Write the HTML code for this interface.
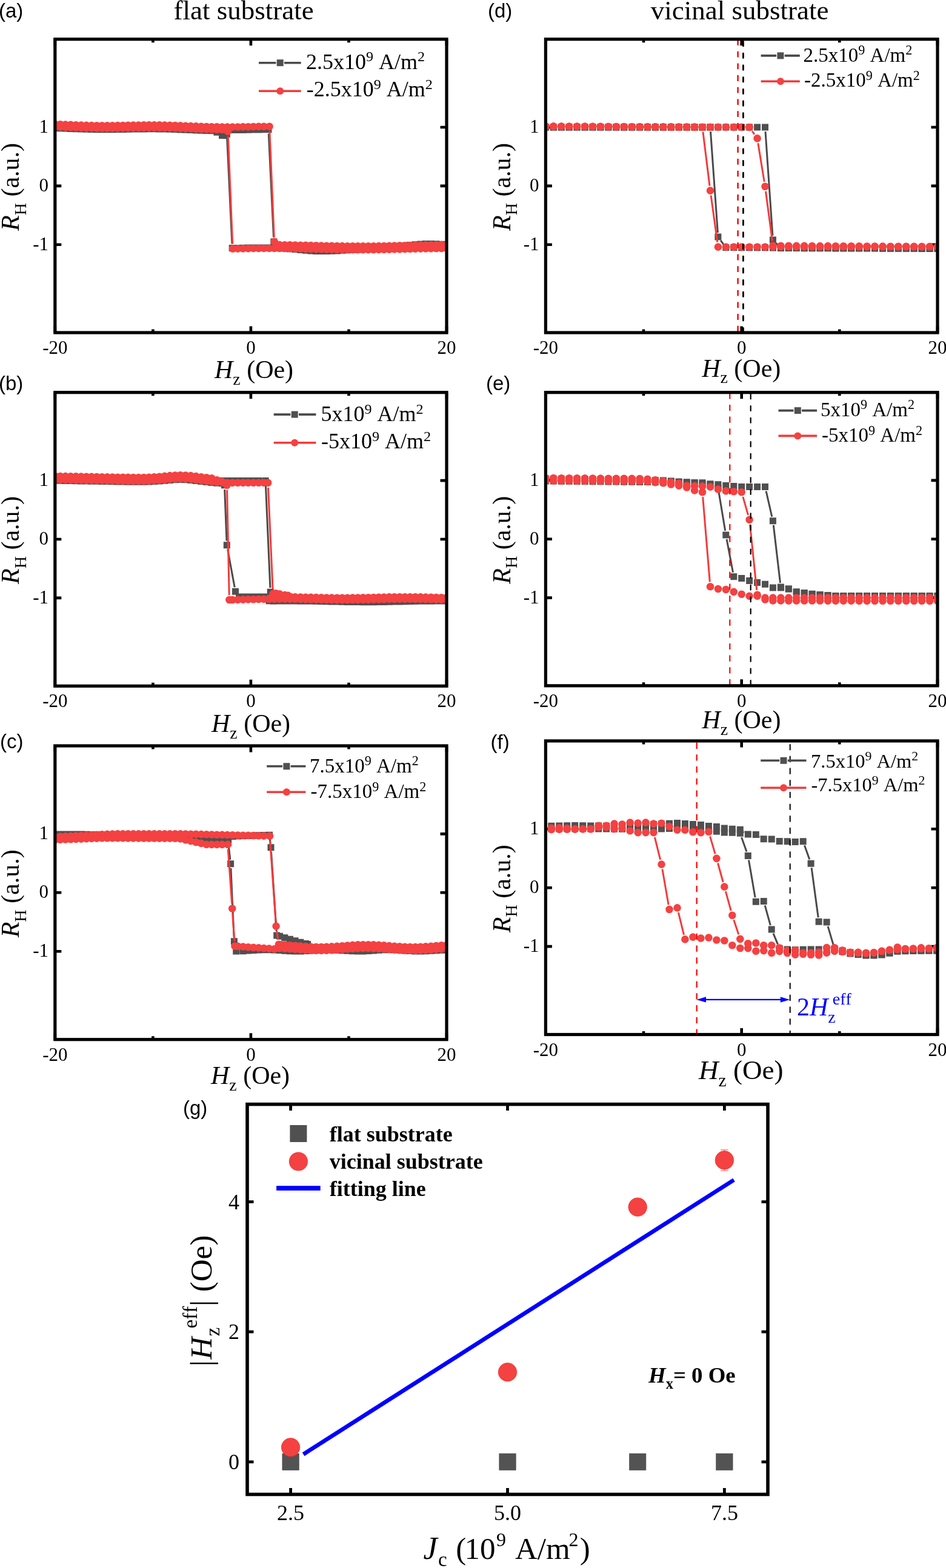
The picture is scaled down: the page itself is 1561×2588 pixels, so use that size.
<!DOCTYPE html><html><head><meta charset="utf-8"><title>Figure</title><style>html,body{margin:0;padding:0;background:#fff;width:1561px;height:2588px;overflow:hidden}svg{display:block}text{font-variant-ligatures:none;font-kerning:none}</style></head><body>
<svg width="1561" height="2588" viewBox="0 0 1561 2588">
<rect width="1561" height="2588" fill="#fff"/>
<defs>
<clipPath id="ca"><rect x="90.8" y="64.7" width="646.2" height="484.3"/></clipPath>
<clipPath id="cb"><rect x="90.8" y="647.7" width="646.2" height="484.6"/></clipPath>
<clipPath id="cc"><rect x="90.8" y="1231" width="646.2" height="484.7"/></clipPath>
<clipPath id="cd"><rect x="900.4" y="64.7" width="646.6" height="484.3"/></clipPath>
<clipPath id="ce"><rect x="900.4" y="647.7" width="646.6" height="484.1"/></clipPath>
<clipPath id="cf"><rect x="900.4" y="1222.9" width="646.6" height="484.6"/></clipPath>
<clipPath id="cg"><rect x="408" y="1822.6" width="859" height="643.9"/></clipPath>
</defs>
<text x="286.5" y="32" font-size="45" text-anchor="start" font-family="'Liberation Serif','Times New Roman',serif" >flat substrate</text>
<text x="1073.8" y="32" font-size="45" text-anchor="start" font-family="'Liberation Serif','Times New Roman',serif" >vicinal substrate</text>
<text x="-2" y="29" font-size="33" text-anchor="start" font-family="'Liberation Sans',Arial,sans-serif" >(a)</text>
<text x="-2" y="644" font-size="33" text-anchor="start" font-family="'Liberation Sans',Arial,sans-serif" >(b)</text>
<text x="0" y="1235" font-size="33" text-anchor="start" font-family="'Liberation Sans',Arial,sans-serif" >(c)</text>
<text x="805" y="29" font-size="33" text-anchor="start" font-family="'Liberation Sans',Arial,sans-serif" >(d)</text>
<text x="802" y="643.6" font-size="33" text-anchor="start" font-family="'Liberation Sans',Arial,sans-serif" >(e)</text>
<text x="809.6" y="1235.5" font-size="33" text-anchor="start" font-family="'Liberation Sans',Arial,sans-serif" >(f)</text>
<text x="302" y="1840.3" font-size="33" text-anchor="start" font-family="'Liberation Sans',Arial,sans-serif" >(g)</text>
<path d="M90.8 549v-10.5M90.8 64.7v10.5M413.9 549v-10.5M413.9 64.7v10.5M737 549v-10.5M737 64.7v10.5M252.4 549v-5.5M252.4 64.7v5.5M575.5 549v-5.5M575.5 64.7v5.5M90.8 403.7h10.5M737 403.7h-10.5M90.8 306.9h10.5M737 306.9h-10.5M90.8 210h10.5M737 210h-10.5" stroke="#000" stroke-width="4.6" fill="none"/>
<g clip-path="url(#ca)">
<path d="M443.3 220.8L451.5 391.8" fill="none" stroke="#4a4a4a" stroke-width="3.0"/>
<path d="M85.3 204.4h11v11h-11zM93.9 204.8h11v11h-11zM102.5 205.1h11v11h-11zM111.1 205.5h11v11h-11zM119.8 205.8h11v11h-11zM128.4 206.1h11v11h-11zM137 206.4h11v11h-11zM145.6 206.6h11v11h-11zM154.2 206.7h11v11h-11zM162.8 206.8h11v11h-11zM171.5 206.8h11v11h-11zM180.1 206.7h11v11h-11zM188.7 206.6h11v11h-11zM197.3 206.5h11v11h-11zM205.9 206.3h11v11h-11zM214.5 206.2h11v11h-11zM223.2 206h11v11h-11zM231.8 205.9h11v11h-11zM240.4 205.9h11v11h-11zM249 205.9h11v11h-11zM257.6 206h11v11h-11zM266.2 206.1h11v11h-11zM274.9 206.3h11v11h-11zM283.5 206.6h11v11h-11zM292.1 206.9h11v11h-11zM300.7 207.2h11v11h-11zM309.3 207.6h11v11h-11zM317.9 207.9h11v11h-11zM326.5 208.3h11v11h-11zM335.2 208.6h11v11h-11zM343.8 208.8h11v11h-11zM352.4 209h11v11h-11zM361 209.1h11v11h-11zM369.6 209.1h11v11h-11zM378.2 209.1h11v11h-11zM386.9 209h11v11h-11zM395.5 208.9h11v11h-11zM404.1 208.7h11v11h-11zM412.7 208.6h11v11h-11zM421.3 208.4h11v11h-11zM429.9 208.3h11v11h-11zM437.5 208.2h11v11h-11zM446.4 393.4h11v11h-11zM450.4 400.5h11v11h-11zM455.8 400.5h11v11h-11zM464.4 400.6h11v11h-11zM473 400.8h11v11h-11zM481.6 400.9h11v11h-11zM490.3 401.1h11v11h-11zM498.9 401.3h11v11h-11zM507.5 401.5h11v11h-11zM516.1 401.7h11v11h-11zM524.7 401.9h11v11h-11zM533.3 402.1h11v11h-11zM541.9 402.3h11v11h-11zM550.6 402.4h11v11h-11zM559.2 402.6h11v11h-11zM567.8 402.7h11v11h-11zM576.4 402.7h11v11h-11zM585 402.8h11v11h-11zM593.6 402.8h11v11h-11zM602.3 402.7h11v11h-11zM610.9 402.6h11v11h-11zM619.5 402.5h11v11h-11zM628.1 402.2h11v11h-11zM636.7 401.9h11v11h-11zM645.3 401.4h11v11h-11zM654 400.7h11v11h-11zM662.6 399.9h11v11h-11zM671.2 399h11v11h-11zM679.8 398.2h11v11h-11zM688.4 397.4h11v11h-11zM697 397h11v11h-11zM705.7 397h11v11h-11zM714.3 397.2h11v11h-11zM722.9 397.8h11v11h-11zM731.5 398.4h11v11h-11z" fill="#505050"/>
<path d="M382.9 402.5L374.7 228.7" fill="none" stroke="#4a4a4a" stroke-width="3.0"/>
<path d="M731.5 403.4h11v11h-11zM722.9 403.4h11v11h-11zM714.3 403.5h11v11h-11zM705.7 403.6h11v11h-11zM697 403.8h11v11h-11zM688.4 404h11v11h-11zM679.8 404.1h11v11h-11zM671.2 404.3h11v11h-11zM662.6 404.6h11v11h-11zM654 404.8h11v11h-11zM645.3 405h11v11h-11zM636.7 405.2h11v11h-11zM628.1 405.3h11v11h-11zM619.5 405.5h11v11h-11zM610.9 405.7h11v11h-11zM602.3 405.9h11v11h-11zM593.6 406.1h11v11h-11zM585 406.4h11v11h-11zM576.4 406.8h11v11h-11zM567.8 407.3h11v11h-11zM559.2 407.8h11v11h-11zM550.6 408.4h11v11h-11zM541.9 408.8h11v11h-11zM533.3 409.1h11v11h-11zM524.7 409.1h11v11h-11zM516.1 408.9h11v11h-11zM507.5 408.4h11v11h-11zM498.9 407.7h11v11h-11zM490.3 406.9h11v11h-11zM481.6 406h11v11h-11zM473 405.3h11v11h-11zM464.4 404.6h11v11h-11zM455.8 404.1h11v11h-11zM447.2 403.8h11v11h-11zM438.6 403.6h11v11h-11zM429.9 403.5h11v11h-11zM421.3 403.5h11v11h-11zM412.7 403.5h11v11h-11zM404.1 403.6h11v11h-11zM395.5 403.7h11v11h-11zM386.9 403.9h11v11h-11zM377.7 404.1h11v11h-11zM368.8 216.1h11v11h-11zM366.4 218.3h11v11h-11zM361 218h11v11h-11zM352.4 212.7h11v11h-11zM343.8 210.3h11v11h-11zM335.2 210h11v11h-11zM326.5 209.7h11v11h-11zM317.9 209.4h11v11h-11zM309.3 209.1h11v11h-11zM300.7 208.7h11v11h-11zM292.1 208.4h11v11h-11zM283.5 208h11v11h-11zM274.9 207.8h11v11h-11zM266.2 207.6h11v11h-11zM257.6 207.4h11v11h-11zM249 207.3h11v11h-11zM240.4 207.3h11v11h-11zM231.8 207.4h11v11h-11zM223.2 207.5h11v11h-11zM214.5 207.6h11v11h-11zM205.9 207.8h11v11h-11zM197.3 207.9h11v11h-11zM188.7 208.1h11v11h-11zM180.1 208.2h11v11h-11zM171.5 208.2h11v11h-11zM162.8 208.2h11v11h-11zM154.2 208.2h11v11h-11zM145.6 208h11v11h-11zM137 207.8h11v11h-11zM128.4 207.6h11v11h-11zM119.8 207.3h11v11h-11zM111.1 206.9h11v11h-11zM102.5 206.6h11v11h-11zM93.9 206.2h11v11h-11zM85.3 205.9h11v11h-11z" fill="#505050"/>
<path d="M444.9 216.6L452.3 391" fill="none" stroke="#f43a3a" stroke-width="3.0"/>
<path d="M84.5 204.9a6.3 6.3 0 1 0 12.6 0a6.3 6.3 0 1 0 -12.6 0M93.1 205.2a6.3 6.3 0 1 0 12.6 0a6.3 6.3 0 1 0 -12.6 0M101.7 205.6a6.3 6.3 0 1 0 12.6 0a6.3 6.3 0 1 0 -12.6 0M110.3 205.9a6.3 6.3 0 1 0 12.6 0a6.3 6.3 0 1 0 -12.6 0M119 206.3a6.3 6.3 0 1 0 12.6 0a6.3 6.3 0 1 0 -12.6 0M127.6 206.6a6.3 6.3 0 1 0 12.6 0a6.3 6.3 0 1 0 -12.6 0M136.2 206.9a6.3 6.3 0 1 0 12.6 0a6.3 6.3 0 1 0 -12.6 0M144.8 207.1a6.3 6.3 0 1 0 12.6 0a6.3 6.3 0 1 0 -12.6 0M153.4 207.2a6.3 6.3 0 1 0 12.6 0a6.3 6.3 0 1 0 -12.6 0M162 207.3a6.3 6.3 0 1 0 12.6 0a6.3 6.3 0 1 0 -12.6 0M170.7 207.3a6.3 6.3 0 1 0 12.6 0a6.3 6.3 0 1 0 -12.6 0M179.3 207.2a6.3 6.3 0 1 0 12.6 0a6.3 6.3 0 1 0 -12.6 0M187.9 207.1a6.3 6.3 0 1 0 12.6 0a6.3 6.3 0 1 0 -12.6 0M196.5 207a6.3 6.3 0 1 0 12.6 0a6.3 6.3 0 1 0 -12.6 0M205.1 206.8a6.3 6.3 0 1 0 12.6 0a6.3 6.3 0 1 0 -12.6 0M213.7 206.6a6.3 6.3 0 1 0 12.6 0a6.3 6.3 0 1 0 -12.6 0M222.4 206.5a6.3 6.3 0 1 0 12.6 0a6.3 6.3 0 1 0 -12.6 0M231 206.4a6.3 6.3 0 1 0 12.6 0a6.3 6.3 0 1 0 -12.6 0M239.6 206.3a6.3 6.3 0 1 0 12.6 0a6.3 6.3 0 1 0 -12.6 0M248.2 206.4a6.3 6.3 0 1 0 12.6 0a6.3 6.3 0 1 0 -12.6 0M256.8 206.4a6.3 6.3 0 1 0 12.6 0a6.3 6.3 0 1 0 -12.6 0M265.4 206.6a6.3 6.3 0 1 0 12.6 0a6.3 6.3 0 1 0 -12.6 0M274.1 206.8a6.3 6.3 0 1 0 12.6 0a6.3 6.3 0 1 0 -12.6 0M282.7 207.1a6.3 6.3 0 1 0 12.6 0a6.3 6.3 0 1 0 -12.6 0M291.3 207.4a6.3 6.3 0 1 0 12.6 0a6.3 6.3 0 1 0 -12.6 0M299.9 207.7a6.3 6.3 0 1 0 12.6 0a6.3 6.3 0 1 0 -12.6 0M308.5 208.1a6.3 6.3 0 1 0 12.6 0a6.3 6.3 0 1 0 -12.6 0M317.1 208.4a6.3 6.3 0 1 0 12.6 0a6.3 6.3 0 1 0 -12.6 0M325.7 208.7a6.3 6.3 0 1 0 12.6 0a6.3 6.3 0 1 0 -12.6 0M334.4 209a6.3 6.3 0 1 0 12.6 0a6.3 6.3 0 1 0 -12.6 0M343 209.3a6.3 6.3 0 1 0 12.6 0a6.3 6.3 0 1 0 -12.6 0M351.6 209.4a6.3 6.3 0 1 0 12.6 0a6.3 6.3 0 1 0 -12.6 0M360.2 209.5a6.3 6.3 0 1 0 12.6 0a6.3 6.3 0 1 0 -12.6 0M368.8 209.6a6.3 6.3 0 1 0 12.6 0a6.3 6.3 0 1 0 -12.6 0M377.4 209.6a6.3 6.3 0 1 0 12.6 0a6.3 6.3 0 1 0 -12.6 0M386.1 209.5a6.3 6.3 0 1 0 12.6 0a6.3 6.3 0 1 0 -12.6 0M394.7 209.3a6.3 6.3 0 1 0 12.6 0a6.3 6.3 0 1 0 -12.6 0M403.3 209.2a6.3 6.3 0 1 0 12.6 0a6.3 6.3 0 1 0 -12.6 0M411.9 209a6.3 6.3 0 1 0 12.6 0a6.3 6.3 0 1 0 -12.6 0M420.5 208.9a6.3 6.3 0 1 0 12.6 0a6.3 6.3 0 1 0 -12.6 0M429.1 208.8a6.3 6.3 0 1 0 12.6 0a6.3 6.3 0 1 0 -12.6 0M438.3 208.7a6.3 6.3 0 1 0 12.6 0a6.3 6.3 0 1 0 -12.6 0M446.4 398.9a6.3 6.3 0 1 0 12.6 0a6.3 6.3 0 1 0 -12.6 0M449.6 404.1a6.3 6.3 0 1 0 12.6 0a6.3 6.3 0 1 0 -12.6 0M455 404.1a6.3 6.3 0 1 0 12.6 0a6.3 6.3 0 1 0 -12.6 0M463.6 404.2a6.3 6.3 0 1 0 12.6 0a6.3 6.3 0 1 0 -12.6 0M472.2 404.3a6.3 6.3 0 1 0 12.6 0a6.3 6.3 0 1 0 -12.6 0M480.8 404.5a6.3 6.3 0 1 0 12.6 0a6.3 6.3 0 1 0 -12.6 0M489.5 404.7a6.3 6.3 0 1 0 12.6 0a6.3 6.3 0 1 0 -12.6 0M498.1 404.8a6.3 6.3 0 1 0 12.6 0a6.3 6.3 0 1 0 -12.6 0M506.7 405.1a6.3 6.3 0 1 0 12.6 0a6.3 6.3 0 1 0 -12.6 0M515.3 405.3a6.3 6.3 0 1 0 12.6 0a6.3 6.3 0 1 0 -12.6 0M523.9 405.5a6.3 6.3 0 1 0 12.6 0a6.3 6.3 0 1 0 -12.6 0M532.5 405.7a6.3 6.3 0 1 0 12.6 0a6.3 6.3 0 1 0 -12.6 0M541.1 405.8a6.3 6.3 0 1 0 12.6 0a6.3 6.3 0 1 0 -12.6 0M549.8 406a6.3 6.3 0 1 0 12.6 0a6.3 6.3 0 1 0 -12.6 0M558.4 406.1a6.3 6.3 0 1 0 12.6 0a6.3 6.3 0 1 0 -12.6 0M567 406.2a6.3 6.3 0 1 0 12.6 0a6.3 6.3 0 1 0 -12.6 0M575.6 406.3a6.3 6.3 0 1 0 12.6 0a6.3 6.3 0 1 0 -12.6 0M584.2 406.3a6.3 6.3 0 1 0 12.6 0a6.3 6.3 0 1 0 -12.6 0M592.8 406.3a6.3 6.3 0 1 0 12.6 0a6.3 6.3 0 1 0 -12.6 0M601.5 406.3a6.3 6.3 0 1 0 12.6 0a6.3 6.3 0 1 0 -12.6 0M610.1 406.2a6.3 6.3 0 1 0 12.6 0a6.3 6.3 0 1 0 -12.6 0M618.7 406.1a6.3 6.3 0 1 0 12.6 0a6.3 6.3 0 1 0 -12.6 0M627.3 406a6.3 6.3 0 1 0 12.6 0a6.3 6.3 0 1 0 -12.6 0M635.9 405.8a6.3 6.3 0 1 0 12.6 0a6.3 6.3 0 1 0 -12.6 0M644.5 405.6a6.3 6.3 0 1 0 12.6 0a6.3 6.3 0 1 0 -12.6 0M653.2 405.4a6.3 6.3 0 1 0 12.6 0a6.3 6.3 0 1 0 -12.6 0M661.8 405.2a6.3 6.3 0 1 0 12.6 0a6.3 6.3 0 1 0 -12.6 0M670.4 405a6.3 6.3 0 1 0 12.6 0a6.3 6.3 0 1 0 -12.6 0M679 404.8a6.3 6.3 0 1 0 12.6 0a6.3 6.3 0 1 0 -12.6 0M687.6 404.6a6.3 6.3 0 1 0 12.6 0a6.3 6.3 0 1 0 -12.6 0M696.2 404.4a6.3 6.3 0 1 0 12.6 0a6.3 6.3 0 1 0 -12.6 0M704.9 404.3a6.3 6.3 0 1 0 12.6 0a6.3 6.3 0 1 0 -12.6 0M713.5 404.2a6.3 6.3 0 1 0 12.6 0a6.3 6.3 0 1 0 -12.6 0M722.1 404.1a6.3 6.3 0 1 0 12.6 0a6.3 6.3 0 1 0 -12.6 0M730.7 404a6.3 6.3 0 1 0 12.6 0a6.3 6.3 0 1 0 -12.6 0" fill="#f44141"/>
<path d="M383.7 402.6L376.3 224.7" fill="none" stroke="#f43a3a" stroke-width="3.0"/>
<path d="M730.7 409.8a6.3 6.3 0 1 0 12.6 0a6.3 6.3 0 1 0 -12.6 0M722.1 409.9a6.3 6.3 0 1 0 12.6 0a6.3 6.3 0 1 0 -12.6 0M713.5 410a6.3 6.3 0 1 0 12.6 0a6.3 6.3 0 1 0 -12.6 0M704.9 410.1a6.3 6.3 0 1 0 12.6 0a6.3 6.3 0 1 0 -12.6 0M696.2 410.3a6.3 6.3 0 1 0 12.6 0a6.3 6.3 0 1 0 -12.6 0M687.6 410.4a6.3 6.3 0 1 0 12.6 0a6.3 6.3 0 1 0 -12.6 0M679 410.6a6.3 6.3 0 1 0 12.6 0a6.3 6.3 0 1 0 -12.6 0M670.4 410.8a6.3 6.3 0 1 0 12.6 0a6.3 6.3 0 1 0 -12.6 0M661.8 411a6.3 6.3 0 1 0 12.6 0a6.3 6.3 0 1 0 -12.6 0M653.2 411.2a6.3 6.3 0 1 0 12.6 0a6.3 6.3 0 1 0 -12.6 0M644.5 411.4a6.3 6.3 0 1 0 12.6 0a6.3 6.3 0 1 0 -12.6 0M635.9 411.6a6.3 6.3 0 1 0 12.6 0a6.3 6.3 0 1 0 -12.6 0M627.3 411.8a6.3 6.3 0 1 0 12.6 0a6.3 6.3 0 1 0 -12.6 0M618.7 411.9a6.3 6.3 0 1 0 12.6 0a6.3 6.3 0 1 0 -12.6 0M610.1 412a6.3 6.3 0 1 0 12.6 0a6.3 6.3 0 1 0 -12.6 0M601.5 412.1a6.3 6.3 0 1 0 12.6 0a6.3 6.3 0 1 0 -12.6 0M592.8 412.1a6.3 6.3 0 1 0 12.6 0a6.3 6.3 0 1 0 -12.6 0M584.2 412.1a6.3 6.3 0 1 0 12.6 0a6.3 6.3 0 1 0 -12.6 0M575.6 412.1a6.3 6.3 0 1 0 12.6 0a6.3 6.3 0 1 0 -12.6 0M567 412a6.3 6.3 0 1 0 12.6 0a6.3 6.3 0 1 0 -12.6 0M558.4 411.9a6.3 6.3 0 1 0 12.6 0a6.3 6.3 0 1 0 -12.6 0M549.8 411.8a6.3 6.3 0 1 0 12.6 0a6.3 6.3 0 1 0 -12.6 0M541.1 411.6a6.3 6.3 0 1 0 12.6 0a6.3 6.3 0 1 0 -12.6 0M532.5 411.5a6.3 6.3 0 1 0 12.6 0a6.3 6.3 0 1 0 -12.6 0M523.9 411.3a6.3 6.3 0 1 0 12.6 0a6.3 6.3 0 1 0 -12.6 0M515.3 411.1a6.3 6.3 0 1 0 12.6 0a6.3 6.3 0 1 0 -12.6 0M506.7 410.9a6.3 6.3 0 1 0 12.6 0a6.3 6.3 0 1 0 -12.6 0M498.1 410.7a6.3 6.3 0 1 0 12.6 0a6.3 6.3 0 1 0 -12.6 0M489.5 410.5a6.3 6.3 0 1 0 12.6 0a6.3 6.3 0 1 0 -12.6 0M480.8 410.3a6.3 6.3 0 1 0 12.6 0a6.3 6.3 0 1 0 -12.6 0M472.2 410.1a6.3 6.3 0 1 0 12.6 0a6.3 6.3 0 1 0 -12.6 0M463.6 410a6.3 6.3 0 1 0 12.6 0a6.3 6.3 0 1 0 -12.6 0M455 409.9a6.3 6.3 0 1 0 12.6 0a6.3 6.3 0 1 0 -12.6 0M446.4 409.8a6.3 6.3 0 1 0 12.6 0a6.3 6.3 0 1 0 -12.6 0M437.8 409.8a6.3 6.3 0 1 0 12.6 0a6.3 6.3 0 1 0 -12.6 0M429.1 409.8a6.3 6.3 0 1 0 12.6 0a6.3 6.3 0 1 0 -12.6 0M420.5 409.9a6.3 6.3 0 1 0 12.6 0a6.3 6.3 0 1 0 -12.6 0M411.9 409.9a6.3 6.3 0 1 0 12.6 0a6.3 6.3 0 1 0 -12.6 0M403.3 410.1a6.3 6.3 0 1 0 12.6 0a6.3 6.3 0 1 0 -12.6 0M394.7 410.2a6.3 6.3 0 1 0 12.6 0a6.3 6.3 0 1 0 -12.6 0M386.1 410.4a6.3 6.3 0 1 0 12.6 0a6.3 6.3 0 1 0 -12.6 0M377.7 410.5a6.3 6.3 0 1 0 12.6 0a6.3 6.3 0 1 0 -12.6 0M369.6 216.8a6.3 6.3 0 1 0 12.6 0a6.3 6.3 0 1 0 -12.6 0M365.6 213.8a6.3 6.3 0 1 0 12.6 0a6.3 6.3 0 1 0 -12.6 0M360.2 213.8a6.3 6.3 0 1 0 12.6 0a6.3 6.3 0 1 0 -12.6 0M351.6 213.7a6.3 6.3 0 1 0 12.6 0a6.3 6.3 0 1 0 -12.6 0M343 213.5a6.3 6.3 0 1 0 12.6 0a6.3 6.3 0 1 0 -12.6 0M334.4 213.3a6.3 6.3 0 1 0 12.6 0a6.3 6.3 0 1 0 -12.6 0M325.7 213a6.3 6.3 0 1 0 12.6 0a6.3 6.3 0 1 0 -12.6 0M317.1 212.7a6.3 6.3 0 1 0 12.6 0a6.3 6.3 0 1 0 -12.6 0M308.5 212.3a6.3 6.3 0 1 0 12.6 0a6.3 6.3 0 1 0 -12.6 0M299.9 212a6.3 6.3 0 1 0 12.6 0a6.3 6.3 0 1 0 -12.6 0M291.3 211.6a6.3 6.3 0 1 0 12.6 0a6.3 6.3 0 1 0 -12.6 0M282.7 211.3a6.3 6.3 0 1 0 12.6 0a6.3 6.3 0 1 0 -12.6 0M274.1 211a6.3 6.3 0 1 0 12.6 0a6.3 6.3 0 1 0 -12.6 0M265.4 210.8a6.3 6.3 0 1 0 12.6 0a6.3 6.3 0 1 0 -12.6 0M256.8 210.7a6.3 6.3 0 1 0 12.6 0a6.3 6.3 0 1 0 -12.6 0M248.2 210.6a6.3 6.3 0 1 0 12.6 0a6.3 6.3 0 1 0 -12.6 0M239.6 210.6a6.3 6.3 0 1 0 12.6 0a6.3 6.3 0 1 0 -12.6 0M231 210.7a6.3 6.3 0 1 0 12.6 0a6.3 6.3 0 1 0 -12.6 0M222.4 210.8a6.3 6.3 0 1 0 12.6 0a6.3 6.3 0 1 0 -12.6 0M213.7 210.9a6.3 6.3 0 1 0 12.6 0a6.3 6.3 0 1 0 -12.6 0M205.1 211.1a6.3 6.3 0 1 0 12.6 0a6.3 6.3 0 1 0 -12.6 0M196.5 211.2a6.3 6.3 0 1 0 12.6 0a6.3 6.3 0 1 0 -12.6 0M187.9 211.4a6.3 6.3 0 1 0 12.6 0a6.3 6.3 0 1 0 -12.6 0M179.3 211.5a6.3 6.3 0 1 0 12.6 0a6.3 6.3 0 1 0 -12.6 0M170.7 211.5a6.3 6.3 0 1 0 12.6 0a6.3 6.3 0 1 0 -12.6 0M162 211.5a6.3 6.3 0 1 0 12.6 0a6.3 6.3 0 1 0 -12.6 0M153.4 211.5a6.3 6.3 0 1 0 12.6 0a6.3 6.3 0 1 0 -12.6 0M144.8 211.3a6.3 6.3 0 1 0 12.6 0a6.3 6.3 0 1 0 -12.6 0M136.2 211.1a6.3 6.3 0 1 0 12.6 0a6.3 6.3 0 1 0 -12.6 0M127.6 210.9a6.3 6.3 0 1 0 12.6 0a6.3 6.3 0 1 0 -12.6 0M119 210.5a6.3 6.3 0 1 0 12.6 0a6.3 6.3 0 1 0 -12.6 0M110.3 210.2a6.3 6.3 0 1 0 12.6 0a6.3 6.3 0 1 0 -12.6 0M101.7 209.9a6.3 6.3 0 1 0 12.6 0a6.3 6.3 0 1 0 -12.6 0M93.1 209.5a6.3 6.3 0 1 0 12.6 0a6.3 6.3 0 1 0 -12.6 0M84.5 209.2a6.3 6.3 0 1 0 12.6 0a6.3 6.3 0 1 0 -12.6 0" fill="#f44141"/>
</g>
<rect x="90.8" y="64.7" width="646.2" height="484.3" fill="none" stroke="#000" stroke-width="5.2"/>
<text x="90.8" y="584" font-size="31" text-anchor="middle" font-family="'Liberation Serif','Times New Roman',serif" >-20</text>
<text x="413.9" y="584" font-size="31" text-anchor="middle" font-family="'Liberation Serif','Times New Roman',serif" >0</text>
<text x="737" y="584" font-size="31" text-anchor="middle" font-family="'Liberation Serif','Times New Roman',serif" >20</text>
<text x="80" y="219" font-size="31" text-anchor="end" font-family="'Liberation Serif','Times New Roman',serif" >1</text>
<text x="80" y="315.9" font-size="31" text-anchor="end" font-family="'Liberation Serif','Times New Roman',serif" >0</text>
<text x="80" y="412.7" font-size="31" text-anchor="end" font-family="'Liberation Serif','Times New Roman',serif" >-1</text>
<text x="354" y="624" font-size="42" font-family="'Liberation Serif','Times New Roman',serif"><tspan font-style="italic">H</tspan><tspan font-size="27.7" dy="10.9">z</tspan><tspan dy="-10.9"> (Oe)</tspan></text>
<text transform="translate(31 308.4) rotate(-90)" text-anchor="middle" font-size="42" font-family="'Liberation Serif','Times New Roman',serif"><tspan font-style="italic">R</tspan><tspan font-size="28" dy="11.5">H</tspan><tspan dy="-11.5"> (a.u.)</tspan></text>
<path d="M427 103.7H455.4M469 103.7H496.7" stroke="#4a4a4a" stroke-width="3.6"/>
<rect x="456.7" y="98.2" width="11" height="11" fill="#505050"/>
<line x1="427" y1="150.3" x2="496.7" y2="150.3" stroke="#f43a3a" stroke-width="3.6"/>
<circle cx="462.2" cy="150.3" r="6" fill="#f44141"/>
<text x="505" y="113.8" font-size="36" font-family="'Liberation Serif','Times New Roman',serif">2.5x10<tspan font-size="24.1" dy="-12.6">9</tspan><tspan dy="12.6"> A/m</tspan><tspan font-size="24.1" dy="-12.6">2</tspan></text>
<text x="505.8" y="159.2" font-size="36" font-family="'Liberation Serif','Times New Roman',serif">-2.5x10<tspan font-size="24.1" dy="-12.6">9</tspan><tspan dy="12.6"> A/m</tspan><tspan font-size="24.1" dy="-12.6">2</tspan></text>
<path d="M90.8 1132.3v-10.5M90.8 647.7v10.5M413.9 1132.3v-10.5M413.9 647.7v10.5M737 1132.3v-10.5M737 647.7v10.5M252.4 1132.3v-5.5M252.4 647.7v5.5M575.5 1132.3v-5.5M575.5 647.7v5.5M90.8 986.9h10.5M737 986.9h-10.5M90.8 890h10.5M737 890h-10.5M90.8 793.1h10.5M737 793.1h-10.5" stroke="#000" stroke-width="4.6" fill="none"/>
<g clip-path="url(#cb)">
<path d="M438.4 800.5L445.9 970.1M448.4 984L448.8 985.2" fill="none" stroke="#4a4a4a" stroke-width="3.0"/>
<path d="M85.3 785.2h11v11h-11zM93.9 785.3h11v11h-11zM102.5 785.5h11v11h-11zM111.1 785.6h11v11h-11zM119.8 785.8h11v11h-11zM128.4 785.9h11v11h-11zM137 786.1h11v11h-11zM145.6 786.2h11v11h-11zM154.2 786.4h11v11h-11zM162.8 786.6h11v11h-11zM171.5 786.7h11v11h-11zM180.1 786.9h11v11h-11zM188.7 787h11v11h-11zM197.3 787.2h11v11h-11zM205.9 787.3h11v11h-11zM214.5 787.4h11v11h-11zM223.2 787.4h11v11h-11zM231.8 787.3h11v11h-11zM240.4 787.1h11v11h-11zM249 786.7h11v11h-11zM257.6 786h11v11h-11zM266.2 785.2h11v11h-11zM274.9 784.4h11v11h-11zM283.5 783.8h11v11h-11zM292.1 783.6h11v11h-11zM300.7 783.8h11v11h-11zM309.3 784.5h11v11h-11zM317.9 785.4h11v11h-11zM326.5 786.6h11v11h-11zM335.2 787.6h11v11h-11zM343.8 787.9h11v11h-11zM352.4 787.9h11v11h-11zM361 787.9h11v11h-11zM369.6 787.9h11v11h-11zM378.2 787.9h11v11h-11zM386.9 787.9h11v11h-11zM395.5 787.9h11v11h-11zM404.1 787.9h11v11h-11zM412.7 787.9h11v11h-11zM421.3 787.9h11v11h-11zM432.6 787.9h11v11h-11zM440.7 971.7h11v11h-11zM445.6 986.5h11v11h-11zM455.8 986.3h11v11h-11zM464.4 986.3h11v11h-11zM473 986.3h11v11h-11zM481.6 986.3h11v11h-11zM490.3 986.4h11v11h-11zM498.9 986.5h11v11h-11zM507.5 986.6h11v11h-11zM516.1 986.8h11v11h-11zM524.7 987h11v11h-11zM533.3 987.2h11v11h-11zM541.9 987.4h11v11h-11zM550.6 987.6h11v11h-11zM559.2 987.8h11v11h-11zM567.8 987.9h11v11h-11zM576.4 988.1h11v11h-11zM585 988.1h11v11h-11zM593.6 988.2h11v11h-11zM602.3 988.2h11v11h-11zM610.9 988.2h11v11h-11zM619.5 988.1h11v11h-11zM628.1 988h11v11h-11zM636.7 987.8h11v11h-11zM645.3 987.6h11v11h-11zM654 987.4h11v11h-11zM662.6 987.2h11v11h-11zM671.2 987h11v11h-11zM679.8 986.8h11v11h-11zM688.4 986.6h11v11h-11zM697 986.5h11v11h-11zM705.7 986.4h11v11h-11zM714.3 986.3h11v11h-11zM722.9 986.3h11v11h-11zM731.5 986.3h11v11h-11z" fill="#505050"/>
<path d="M387.2 969.3L375.6 906.7M374 892.6L370.7 807.9" fill="none" stroke="#4a4a4a" stroke-width="3.0"/>
<path d="M731.5 986.3h11v11h-11zM722.9 986.3h11v11h-11zM714.3 986.3h11v11h-11zM705.7 986.3h11v11h-11zM697 986.3h11v11h-11zM688.4 986.3h11v11h-11zM679.8 986.3h11v11h-11zM671.2 986.3h11v11h-11zM662.6 986.3h11v11h-11zM654 986.3h11v11h-11zM645.3 986.3h11v11h-11zM636.7 986.3h11v11h-11zM628.1 986.3h11v11h-11zM619.5 986.3h11v11h-11zM610.9 986.3h11v11h-11zM602.3 986.3h11v11h-11zM593.6 986.3h11v11h-11zM585 986.3h11v11h-11zM576.4 986.3h11v11h-11zM567.8 986.3h11v11h-11zM559.2 986.3h11v11h-11zM550.6 986.3h11v11h-11zM541.9 986.3h11v11h-11zM533.3 986.3h11v11h-11zM524.7 986.3h11v11h-11zM516.1 986.3h11v11h-11zM507.5 986.3h11v11h-11zM498.9 986.3h11v11h-11zM490.3 986.3h11v11h-11zM481.6 986.3h11v11h-11zM473 986.3h11v11h-11zM464.4 986.3h11v11h-11zM455.8 986.3h11v11h-11zM447.2 986.3h11v11h-11zM438.6 986.3h11v11h-11zM429.9 979.5h11v11h-11zM421.3 979.5h11v11h-11zM412.7 979.5h11v11h-11zM404.1 979.5h11v11h-11zM395.5 979.5h11v11h-11zM389 979.5h11v11h-11zM383 970.8h11v11h-11zM368.8 894.2h11v11h-11zM364.9 795.3h11v11h-11zM361.6 792.2h11v11h-11zM352.4 791.7h11v11h-11zM343.8 791h11v11h-11zM335.2 790.1h11v11h-11zM326.5 789h11v11h-11zM317.9 787.9h11v11h-11zM309.3 786.9h11v11h-11zM300.7 786.2h11v11h-11zM292.1 786h11v11h-11zM283.5 786.3h11v11h-11zM274.9 786.9h11v11h-11zM266.2 787.7h11v11h-11zM257.6 788.5h11v11h-11zM249 789.1h11v11h-11zM240.4 789.5h11v11h-11zM231.8 789.8h11v11h-11zM223.2 789.8h11v11h-11zM214.5 789.8h11v11h-11zM205.9 789.7h11v11h-11zM197.3 789.6h11v11h-11zM188.7 789.4h11v11h-11zM180.1 789.3h11v11h-11zM171.5 789.1h11v11h-11zM162.8 789h11v11h-11zM154.2 788.8h11v11h-11zM145.6 788.7h11v11h-11zM137 788.5h11v11h-11zM128.4 788.4h11v11h-11zM119.8 788.2h11v11h-11zM111.1 788h11v11h-11zM102.5 787.9h11v11h-11zM93.9 787.7h11v11h-11zM85.3 787.6h11v11h-11z" fill="#505050"/>
<path d="M442.5 804.6L450.1 972.2" fill="none" stroke="#f43a3a" stroke-width="3.0"/>
<path d="M84.5 785.8a6.3 6.3 0 1 0 12.6 0a6.3 6.3 0 1 0 -12.6 0M93.1 786a6.3 6.3 0 1 0 12.6 0a6.3 6.3 0 1 0 -12.6 0M101.7 786.1a6.3 6.3 0 1 0 12.6 0a6.3 6.3 0 1 0 -12.6 0M110.3 786.3a6.3 6.3 0 1 0 12.6 0a6.3 6.3 0 1 0 -12.6 0M119 786.4a6.3 6.3 0 1 0 12.6 0a6.3 6.3 0 1 0 -12.6 0M127.6 786.6a6.3 6.3 0 1 0 12.6 0a6.3 6.3 0 1 0 -12.6 0M136.2 786.7a6.3 6.3 0 1 0 12.6 0a6.3 6.3 0 1 0 -12.6 0M144.8 786.9a6.3 6.3 0 1 0 12.6 0a6.3 6.3 0 1 0 -12.6 0M153.4 787.1a6.3 6.3 0 1 0 12.6 0a6.3 6.3 0 1 0 -12.6 0M162 787.2a6.3 6.3 0 1 0 12.6 0a6.3 6.3 0 1 0 -12.6 0M170.7 787.4a6.3 6.3 0 1 0 12.6 0a6.3 6.3 0 1 0 -12.6 0M179.3 787.5a6.3 6.3 0 1 0 12.6 0a6.3 6.3 0 1 0 -12.6 0M187.9 787.7a6.3 6.3 0 1 0 12.6 0a6.3 6.3 0 1 0 -12.6 0M196.5 787.8a6.3 6.3 0 1 0 12.6 0a6.3 6.3 0 1 0 -12.6 0M205.1 787.9a6.3 6.3 0 1 0 12.6 0a6.3 6.3 0 1 0 -12.6 0M213.7 788a6.3 6.3 0 1 0 12.6 0a6.3 6.3 0 1 0 -12.6 0M222.4 788.1a6.3 6.3 0 1 0 12.6 0a6.3 6.3 0 1 0 -12.6 0M231 788a6.3 6.3 0 1 0 12.6 0a6.3 6.3 0 1 0 -12.6 0M239.6 787.8a6.3 6.3 0 1 0 12.6 0a6.3 6.3 0 1 0 -12.6 0M248.2 787.3a6.3 6.3 0 1 0 12.6 0a6.3 6.3 0 1 0 -12.6 0M256.8 786.7a6.3 6.3 0 1 0 12.6 0a6.3 6.3 0 1 0 -12.6 0M265.4 785.9a6.3 6.3 0 1 0 12.6 0a6.3 6.3 0 1 0 -12.6 0M274.1 785.1a6.3 6.3 0 1 0 12.6 0a6.3 6.3 0 1 0 -12.6 0M282.7 784.5a6.3 6.3 0 1 0 12.6 0a6.3 6.3 0 1 0 -12.6 0M291.3 784.2a6.3 6.3 0 1 0 12.6 0a6.3 6.3 0 1 0 -12.6 0M299.9 784.5a6.3 6.3 0 1 0 12.6 0a6.3 6.3 0 1 0 -12.6 0M308.5 785.1a6.3 6.3 0 1 0 12.6 0a6.3 6.3 0 1 0 -12.6 0M317.1 786.1a6.3 6.3 0 1 0 12.6 0a6.3 6.3 0 1 0 -12.6 0M325.7 787.2a6.3 6.3 0 1 0 12.6 0a6.3 6.3 0 1 0 -12.6 0M334.4 788.3a6.3 6.3 0 1 0 12.6 0a6.3 6.3 0 1 0 -12.6 0M343 789.2a6.3 6.3 0 1 0 12.6 0a6.3 6.3 0 1 0 -12.6 0M351.6 792.3a6.3 6.3 0 1 0 12.6 0a6.3 6.3 0 1 0 -12.6 0M360.2 794.9a6.3 6.3 0 1 0 12.6 0a6.3 6.3 0 1 0 -12.6 0M368.8 796.7a6.3 6.3 0 1 0 12.6 0a6.3 6.3 0 1 0 -12.6 0M377.4 796.7a6.3 6.3 0 1 0 12.6 0a6.3 6.3 0 1 0 -12.6 0M386.1 796.7a6.3 6.3 0 1 0 12.6 0a6.3 6.3 0 1 0 -12.6 0M394.7 796.7a6.3 6.3 0 1 0 12.6 0a6.3 6.3 0 1 0 -12.6 0M403.3 796.7a6.3 6.3 0 1 0 12.6 0a6.3 6.3 0 1 0 -12.6 0M411.9 796.7a6.3 6.3 0 1 0 12.6 0a6.3 6.3 0 1 0 -12.6 0M420.5 796.7a6.3 6.3 0 1 0 12.6 0a6.3 6.3 0 1 0 -12.6 0M429.1 796.7a6.3 6.3 0 1 0 12.6 0a6.3 6.3 0 1 0 -12.6 0M435.9 796.7a6.3 6.3 0 1 0 12.6 0a6.3 6.3 0 1 0 -12.6 0M444.1 980.1a6.3 6.3 0 1 0 12.6 0a6.3 6.3 0 1 0 -12.6 0M448.8 979.3a6.3 6.3 0 1 0 12.6 0a6.3 6.3 0 1 0 -12.6 0M455 980.4a6.3 6.3 0 1 0 12.6 0a6.3 6.3 0 1 0 -12.6 0M463.6 982a6.3 6.3 0 1 0 12.6 0a6.3 6.3 0 1 0 -12.6 0M469 982.9a6.3 6.3 0 1 0 12.6 0a6.3 6.3 0 1 0 -12.6 0M473.8 985.3a6.3 6.3 0 1 0 12.6 0a6.3 6.3 0 1 0 -12.6 0M480.8 985.4a6.3 6.3 0 1 0 12.6 0a6.3 6.3 0 1 0 -12.6 0M489.5 985.5a6.3 6.3 0 1 0 12.6 0a6.3 6.3 0 1 0 -12.6 0M498.1 985.7a6.3 6.3 0 1 0 12.6 0a6.3 6.3 0 1 0 -12.6 0M506.7 985.9a6.3 6.3 0 1 0 12.6 0a6.3 6.3 0 1 0 -12.6 0M515.3 986.1a6.3 6.3 0 1 0 12.6 0a6.3 6.3 0 1 0 -12.6 0M523.9 986.3a6.3 6.3 0 1 0 12.6 0a6.3 6.3 0 1 0 -12.6 0M532.5 986.5a6.3 6.3 0 1 0 12.6 0a6.3 6.3 0 1 0 -12.6 0M541.1 986.6a6.3 6.3 0 1 0 12.6 0a6.3 6.3 0 1 0 -12.6 0M549.8 986.7a6.3 6.3 0 1 0 12.6 0a6.3 6.3 0 1 0 -12.6 0M558.4 986.7a6.3 6.3 0 1 0 12.6 0a6.3 6.3 0 1 0 -12.6 0M567 986.7a6.3 6.3 0 1 0 12.6 0a6.3 6.3 0 1 0 -12.6 0M575.6 986.6a6.3 6.3 0 1 0 12.6 0a6.3 6.3 0 1 0 -12.6 0M584.2 986.5a6.3 6.3 0 1 0 12.6 0a6.3 6.3 0 1 0 -12.6 0M592.8 986.4a6.3 6.3 0 1 0 12.6 0a6.3 6.3 0 1 0 -12.6 0M601.5 986.2a6.3 6.3 0 1 0 12.6 0a6.3 6.3 0 1 0 -12.6 0M610.1 986a6.3 6.3 0 1 0 12.6 0a6.3 6.3 0 1 0 -12.6 0M618.7 985.8a6.3 6.3 0 1 0 12.6 0a6.3 6.3 0 1 0 -12.6 0M627.3 985.6a6.3 6.3 0 1 0 12.6 0a6.3 6.3 0 1 0 -12.6 0M635.9 985.4a6.3 6.3 0 1 0 12.6 0a6.3 6.3 0 1 0 -12.6 0M644.5 985.3a6.3 6.3 0 1 0 12.6 0a6.3 6.3 0 1 0 -12.6 0M653.2 985.2a6.3 6.3 0 1 0 12.6 0a6.3 6.3 0 1 0 -12.6 0M661.8 985.2a6.3 6.3 0 1 0 12.6 0a6.3 6.3 0 1 0 -12.6 0M670.4 985.2a6.3 6.3 0 1 0 12.6 0a6.3 6.3 0 1 0 -12.6 0M679 985.3a6.3 6.3 0 1 0 12.6 0a6.3 6.3 0 1 0 -12.6 0M687.6 985.4a6.3 6.3 0 1 0 12.6 0a6.3 6.3 0 1 0 -12.6 0M696.2 985.6a6.3 6.3 0 1 0 12.6 0a6.3 6.3 0 1 0 -12.6 0M704.9 985.8a6.3 6.3 0 1 0 12.6 0a6.3 6.3 0 1 0 -12.6 0M713.5 986a6.3 6.3 0 1 0 12.6 0a6.3 6.3 0 1 0 -12.6 0M722.1 986.2a6.3 6.3 0 1 0 12.6 0a6.3 6.3 0 1 0 -12.6 0M730.7 986.4a6.3 6.3 0 1 0 12.6 0a6.3 6.3 0 1 0 -12.6 0" fill="#f44141"/>
<path d="M378.2 982.1L374.6 808.7" fill="none" stroke="#f43a3a" stroke-width="3.0"/>
<path d="M730.7 989.8a6.3 6.3 0 1 0 12.6 0a6.3 6.3 0 1 0 -12.6 0M722.1 989.6a6.3 6.3 0 1 0 12.6 0a6.3 6.3 0 1 0 -12.6 0M713.5 989.4a6.3 6.3 0 1 0 12.6 0a6.3 6.3 0 1 0 -12.6 0M704.9 989.2a6.3 6.3 0 1 0 12.6 0a6.3 6.3 0 1 0 -12.6 0M696.2 989a6.3 6.3 0 1 0 12.6 0a6.3 6.3 0 1 0 -12.6 0M687.6 988.8a6.3 6.3 0 1 0 12.6 0a6.3 6.3 0 1 0 -12.6 0M679 988.7a6.3 6.3 0 1 0 12.6 0a6.3 6.3 0 1 0 -12.6 0M670.4 988.6a6.3 6.3 0 1 0 12.6 0a6.3 6.3 0 1 0 -12.6 0M661.8 988.6a6.3 6.3 0 1 0 12.6 0a6.3 6.3 0 1 0 -12.6 0M653.2 988.6a6.3 6.3 0 1 0 12.6 0a6.3 6.3 0 1 0 -12.6 0M644.5 988.7a6.3 6.3 0 1 0 12.6 0a6.3 6.3 0 1 0 -12.6 0M635.9 988.8a6.3 6.3 0 1 0 12.6 0a6.3 6.3 0 1 0 -12.6 0M627.3 989a6.3 6.3 0 1 0 12.6 0a6.3 6.3 0 1 0 -12.6 0M618.7 989.2a6.3 6.3 0 1 0 12.6 0a6.3 6.3 0 1 0 -12.6 0M610.1 989.4a6.3 6.3 0 1 0 12.6 0a6.3 6.3 0 1 0 -12.6 0M601.5 989.6a6.3 6.3 0 1 0 12.6 0a6.3 6.3 0 1 0 -12.6 0M592.8 989.7a6.3 6.3 0 1 0 12.6 0a6.3 6.3 0 1 0 -12.6 0M584.2 989.9a6.3 6.3 0 1 0 12.6 0a6.3 6.3 0 1 0 -12.6 0M575.6 990a6.3 6.3 0 1 0 12.6 0a6.3 6.3 0 1 0 -12.6 0M567 990.1a6.3 6.3 0 1 0 12.6 0a6.3 6.3 0 1 0 -12.6 0M558.4 990.1a6.3 6.3 0 1 0 12.6 0a6.3 6.3 0 1 0 -12.6 0M549.8 990.1a6.3 6.3 0 1 0 12.6 0a6.3 6.3 0 1 0 -12.6 0M541.1 990a6.3 6.3 0 1 0 12.6 0a6.3 6.3 0 1 0 -12.6 0M532.5 989.9a6.3 6.3 0 1 0 12.6 0a6.3 6.3 0 1 0 -12.6 0M523.9 989.7a6.3 6.3 0 1 0 12.6 0a6.3 6.3 0 1 0 -12.6 0M515.3 989.5a6.3 6.3 0 1 0 12.6 0a6.3 6.3 0 1 0 -12.6 0M506.7 989.3a6.3 6.3 0 1 0 12.6 0a6.3 6.3 0 1 0 -12.6 0M498.1 989.1a6.3 6.3 0 1 0 12.6 0a6.3 6.3 0 1 0 -12.6 0M489.5 988.9a6.3 6.3 0 1 0 12.6 0a6.3 6.3 0 1 0 -12.6 0M480.8 988.7a6.3 6.3 0 1 0 12.6 0a6.3 6.3 0 1 0 -12.6 0M472.2 988.6a6.3 6.3 0 1 0 12.6 0a6.3 6.3 0 1 0 -12.6 0M463.6 988.6a6.3 6.3 0 1 0 12.6 0a6.3 6.3 0 1 0 -12.6 0M455 988.6a6.3 6.3 0 1 0 12.6 0a6.3 6.3 0 1 0 -12.6 0M446.4 988.6a6.3 6.3 0 1 0 12.6 0a6.3 6.3 0 1 0 -12.6 0M437.8 988.7a6.3 6.3 0 1 0 12.6 0a6.3 6.3 0 1 0 -12.6 0M429.1 988.9a6.3 6.3 0 1 0 12.6 0a6.3 6.3 0 1 0 -12.6 0M420.5 989a6.3 6.3 0 1 0 12.6 0a6.3 6.3 0 1 0 -12.6 0M411.9 989.2a6.3 6.3 0 1 0 12.6 0a6.3 6.3 0 1 0 -12.6 0M403.3 989.4a6.3 6.3 0 1 0 12.6 0a6.3 6.3 0 1 0 -12.6 0M394.7 989.6a6.3 6.3 0 1 0 12.6 0a6.3 6.3 0 1 0 -12.6 0M386.1 989.8a6.3 6.3 0 1 0 12.6 0a6.3 6.3 0 1 0 -12.6 0M377.4 990a6.3 6.3 0 1 0 12.6 0a6.3 6.3 0 1 0 -12.6 0M372.1 990a6.3 6.3 0 1 0 12.6 0a6.3 6.3 0 1 0 -12.6 0M368.2 800.8a6.3 6.3 0 1 0 12.6 0a6.3 6.3 0 1 0 -12.6 0M360.8 796.2a6.3 6.3 0 1 0 12.6 0a6.3 6.3 0 1 0 -12.6 0M351.6 795.7a6.3 6.3 0 1 0 12.6 0a6.3 6.3 0 1 0 -12.6 0M343 795a6.3 6.3 0 1 0 12.6 0a6.3 6.3 0 1 0 -12.6 0M334.4 794.1a6.3 6.3 0 1 0 12.6 0a6.3 6.3 0 1 0 -12.6 0M325.7 793a6.3 6.3 0 1 0 12.6 0a6.3 6.3 0 1 0 -12.6 0M317.1 791.9a6.3 6.3 0 1 0 12.6 0a6.3 6.3 0 1 0 -12.6 0M308.5 790.9a6.3 6.3 0 1 0 12.6 0a6.3 6.3 0 1 0 -12.6 0M299.9 790.3a6.3 6.3 0 1 0 12.6 0a6.3 6.3 0 1 0 -12.6 0M291.3 790.1a6.3 6.3 0 1 0 12.6 0a6.3 6.3 0 1 0 -12.6 0M282.7 790.3a6.3 6.3 0 1 0 12.6 0a6.3 6.3 0 1 0 -12.6 0M274.1 790.9a6.3 6.3 0 1 0 12.6 0a6.3 6.3 0 1 0 -12.6 0M265.4 791.7a6.3 6.3 0 1 0 12.6 0a6.3 6.3 0 1 0 -12.6 0M256.8 792.5a6.3 6.3 0 1 0 12.6 0a6.3 6.3 0 1 0 -12.6 0M248.2 793.1a6.3 6.3 0 1 0 12.6 0a6.3 6.3 0 1 0 -12.6 0M239.6 793.6a6.3 6.3 0 1 0 12.6 0a6.3 6.3 0 1 0 -12.6 0M231 793.8a6.3 6.3 0 1 0 12.6 0a6.3 6.3 0 1 0 -12.6 0M222.4 793.9a6.3 6.3 0 1 0 12.6 0a6.3 6.3 0 1 0 -12.6 0M213.7 793.9a6.3 6.3 0 1 0 12.6 0a6.3 6.3 0 1 0 -12.6 0M205.1 793.8a6.3 6.3 0 1 0 12.6 0a6.3 6.3 0 1 0 -12.6 0M196.5 793.6a6.3 6.3 0 1 0 12.6 0a6.3 6.3 0 1 0 -12.6 0M187.9 793.5a6.3 6.3 0 1 0 12.6 0a6.3 6.3 0 1 0 -12.6 0M179.3 793.3a6.3 6.3 0 1 0 12.6 0a6.3 6.3 0 1 0 -12.6 0M170.7 793.2a6.3 6.3 0 1 0 12.6 0a6.3 6.3 0 1 0 -12.6 0M162 793a6.3 6.3 0 1 0 12.6 0a6.3 6.3 0 1 0 -12.6 0M153.4 792.9a6.3 6.3 0 1 0 12.6 0a6.3 6.3 0 1 0 -12.6 0M144.8 792.7a6.3 6.3 0 1 0 12.6 0a6.3 6.3 0 1 0 -12.6 0M136.2 792.6a6.3 6.3 0 1 0 12.6 0a6.3 6.3 0 1 0 -12.6 0M127.6 792.4a6.3 6.3 0 1 0 12.6 0a6.3 6.3 0 1 0 -12.6 0M119 792.2a6.3 6.3 0 1 0 12.6 0a6.3 6.3 0 1 0 -12.6 0M110.3 792.1a6.3 6.3 0 1 0 12.6 0a6.3 6.3 0 1 0 -12.6 0M101.7 791.9a6.3 6.3 0 1 0 12.6 0a6.3 6.3 0 1 0 -12.6 0M93.1 791.8a6.3 6.3 0 1 0 12.6 0a6.3 6.3 0 1 0 -12.6 0M84.5 791.6a6.3 6.3 0 1 0 12.6 0a6.3 6.3 0 1 0 -12.6 0" fill="#f44141"/>
</g>
<rect x="90.8" y="647.7" width="646.2" height="484.6" fill="none" stroke="#000" stroke-width="5.2"/>
<text x="90.8" y="1167.3" font-size="31" text-anchor="middle" font-family="'Liberation Serif','Times New Roman',serif" >-20</text>
<text x="413.9" y="1167.3" font-size="31" text-anchor="middle" font-family="'Liberation Serif','Times New Roman',serif" >0</text>
<text x="737" y="1167.3" font-size="31" text-anchor="middle" font-family="'Liberation Serif','Times New Roman',serif" >20</text>
<text x="80" y="802.1" font-size="31" text-anchor="end" font-family="'Liberation Serif','Times New Roman',serif" >1</text>
<text x="80" y="899" font-size="31" text-anchor="end" font-family="'Liberation Serif','Times New Roman',serif" >0</text>
<text x="80" y="995.9" font-size="31" text-anchor="end" font-family="'Liberation Serif','Times New Roman',serif" >-1</text>
<text x="349" y="1208" font-size="42" font-family="'Liberation Serif','Times New Roman',serif"><tspan font-style="italic">H</tspan><tspan font-size="27.7" dy="10.9">z</tspan><tspan dy="-10.9"> (Oe)</tspan></text>
<text transform="translate(31 891.5) rotate(-90)" text-anchor="middle" font-size="42" font-family="'Liberation Serif','Times New Roman',serif"><tspan font-style="italic">R</tspan><tspan font-size="28" dy="11.5">H</tspan><tspan dy="-11.5"> (a.u.)</tspan></text>
<path d="M451.7 684.1H479.4M493 684.1H521.4" stroke="#4a4a4a" stroke-width="3.6"/>
<rect x="480.7" y="678.6" width="11" height="11" fill="#505050"/>
<line x1="451.7" y1="730.7" x2="521.4" y2="730.7" stroke="#f43a3a" stroke-width="3.6"/>
<circle cx="486.2" cy="730.7" r="6" fill="#f44141"/>
<text x="529.5" y="695.2" font-size="36" font-family="'Liberation Serif','Times New Roman',serif">5x10<tspan font-size="24.1" dy="-12.6">9</tspan><tspan dy="12.6"> A/m</tspan><tspan font-size="24.1" dy="-12.6">2</tspan></text>
<text x="530" y="740.3" font-size="36" font-family="'Liberation Serif','Times New Roman',serif">-5x10<tspan font-size="24.1" dy="-12.6">9</tspan><tspan dy="12.6"> A/m</tspan><tspan font-size="24.1" dy="-12.6">2</tspan></text>
<path d="M90.8 1715.7v-10.5M90.8 1231v10.5M413.9 1715.7v-10.5M413.9 1231v10.5M737 1715.7v-10.5M737 1231v10.5M252.4 1715.7v-5.5M252.4 1231v5.5M575.5 1715.7v-5.5M575.5 1231v5.5M90.8 1570.3h10.5M737 1570.3h-10.5M90.8 1473.3h10.5M737 1473.3h-10.5M90.8 1376.4h10.5M737 1376.4h-10.5" stroke="#000" stroke-width="4.6" fill="none"/>
<g clip-path="url(#cc)">
<path d="M445.4 1385.3L446.2 1391.7M447.5 1405.8L456.2 1537" fill="none" stroke="#4a4a4a" stroke-width="3.0"/>
<path d="M85.3 1371.5h11v11h-11zM93.9 1371.4h11v11h-11zM102.5 1371.4h11v11h-11zM111.1 1371.4h11v11h-11zM119.8 1371.5h11v11h-11zM128.4 1371.6h11v11h-11zM137 1371.7h11v11h-11zM145.6 1371.9h11v11h-11zM154.2 1372.1h11v11h-11zM162.8 1372.3h11v11h-11zM171.5 1372.6h11v11h-11zM180.1 1372.9h11v11h-11zM188.7 1373.2h11v11h-11zM197.3 1373.5h11v11h-11zM205.9 1373.8h11v11h-11zM214.5 1374.2h11v11h-11zM223.2 1374.5h11v11h-11zM231.8 1374.8h11v11h-11zM240.4 1375.1h11v11h-11zM249 1375.3h11v11h-11zM257.6 1375.6h11v11h-11zM266.2 1375.8h11v11h-11zM274.9 1375.9h11v11h-11zM283.5 1376.1h11v11h-11zM292.1 1376.2h11v11h-11zM300.7 1376.2h11v11h-11zM309.3 1376.2h11v11h-11zM317.9 1376.2h11v11h-11zM326.5 1376.1h11v11h-11zM335.2 1376h11v11h-11zM343.8 1375.9h11v11h-11zM352.4 1375.7h11v11h-11zM361 1375.4h11v11h-11zM369.6 1375.2h11v11h-11zM378.2 1374.9h11v11h-11zM386.9 1374.6h11v11h-11zM395.5 1374.3h11v11h-11zM404.1 1374h11v11h-11zM412.7 1373.7h11v11h-11zM421.3 1373.3h11v11h-11zM429.9 1373h11v11h-11zM439.1 1372.7h11v11h-11zM441.5 1393.2h11v11h-11zM451.2 1538.6h11v11h-11zM456.1 1539.8h11v11h-11zM464.4 1542.2h11v11h-11zM473 1544.7h11v11h-11zM481.6 1547.2h11v11h-11zM490.3 1549.7h11v11h-11zM498.9 1552.1h11v11h-11zM502.1 1553.1h11v11h-11zM506.9 1558.2h11v11h-11zM516.1 1558.4h11v11h-11zM524.7 1558.6h11v11h-11zM533.3 1558.9h11v11h-11zM541.9 1559.2h11v11h-11zM550.6 1559.5h11v11h-11zM559.2 1559.9h11v11h-11zM567.8 1560.2h11v11h-11zM576.4 1560.6h11v11h-11zM585 1560.9h11v11h-11zM593.6 1561.2h11v11h-11zM602.3 1561.4h11v11h-11zM610.9 1561.6h11v11h-11zM619.5 1561.8h11v11h-11zM628.1 1561.9h11v11h-11zM636.7 1561.9h11v11h-11zM645.3 1561.9h11v11h-11zM654 1561.8h11v11h-11zM662.6 1561.6h11v11h-11zM671.2 1561.4h11v11h-11zM679.8 1561.2h11v11h-11zM688.4 1560.9h11v11h-11zM697 1560.6h11v11h-11zM705.7 1560.2h11v11h-11zM714.3 1559.9h11v11h-11zM722.9 1559.5h11v11h-11zM731.5 1559.2h11v11h-11z" fill="#505050"/>
<path d="M388.3 1563L387.8 1560.8M386.1 1546.7L380.9 1432.9M379.8 1418.8L377.5 1398" fill="none" stroke="#4a4a4a" stroke-width="3.0"/>
<path d="M731.5 1562.3h11v11h-11zM722.9 1562.7h11v11h-11zM714.3 1563.2h11v11h-11zM705.7 1563.8h11v11h-11zM697 1564.3h11v11h-11zM688.4 1564.5h11v11h-11zM679.8 1564.4h11v11h-11zM671.2 1564h11v11h-11zM662.6 1563.4h11v11h-11zM654 1562.8h11v11h-11zM645.3 1562.3h11v11h-11zM636.7 1562.2h11v11h-11zM628.1 1562.3h11v11h-11zM619.5 1562.8h11v11h-11zM610.9 1563.4h11v11h-11zM602.3 1564h11v11h-11zM593.6 1564.4h11v11h-11zM585 1564.5h11v11h-11zM576.4 1564.3h11v11h-11zM567.8 1563.8h11v11h-11zM559.2 1563.2h11v11h-11zM550.6 1562.7h11v11h-11zM541.9 1562.3h11v11h-11zM533.3 1562.2h11v11h-11zM524.7 1562.4h11v11h-11zM516.1 1562.9h11v11h-11zM507.5 1563.5h11v11h-11zM498.9 1564.1h11v11h-11zM490.3 1564.4h11v11h-11zM481.6 1564.5h11v11h-11zM473 1564.2h11v11h-11zM464.4 1563.7h11v11h-11zM455.8 1563.1h11v11h-11zM447.2 1562.6h11v11h-11zM438.6 1562.2h11v11h-11zM429.9 1562.2h11v11h-11zM421.3 1562.5h11v11h-11zM412.7 1563h11v11h-11zM404.1 1563.6h11v11h-11zM395.5 1564.2h11v11h-11zM384.2 1564.5h11v11h-11zM380.9 1548.3h11v11h-11zM375.1 1420.3h11v11h-11zM371.2 1385.5h11v11h-11zM366.4 1384.5h11v11h-11zM361 1383.5h11v11h-11zM352.4 1382h11v11h-11zM343.8 1380.5h11v11h-11zM335.2 1379h11v11h-11zM326.5 1377.6h11v11h-11zM317.9 1376.8h11v11h-11zM309.3 1376h11v11h-11zM300.7 1375.3h11v11h-11zM292.1 1374.8h11v11h-11zM283.5 1374.9h11v11h-11zM274.9 1374.9h11v11h-11zM266.2 1375h11v11h-11zM257.6 1375.1h11v11h-11zM249 1375.1h11v11h-11zM240.4 1375.2h11v11h-11zM231.8 1375.3h11v11h-11zM223.2 1375.3h11v11h-11zM214.5 1375.4h11v11h-11zM205.9 1375.5h11v11h-11zM197.3 1375.5h11v11h-11zM188.7 1375.6h11v11h-11zM180.1 1375.7h11v11h-11zM171.5 1375.7h11v11h-11zM162.8 1375.8h11v11h-11zM154.2 1376h11v11h-11zM145.6 1376.2h11v11h-11zM137 1376.5h11v11h-11zM128.4 1376.7h11v11h-11zM119.8 1376.9h11v11h-11zM111.1 1377.1h11v11h-11zM102.5 1377.3h11v11h-11zM93.9 1377.5h11v11h-11zM85.3 1377.7h11v11h-11z" fill="#505050"/>
<path d="M445.6 1387.7L455 1520.7M456.7 1536.4L458.8 1550.8" fill="none" stroke="#f43a3a" stroke-width="3.0"/>
<path d="M84.5 1381.3a6.3 6.3 0 1 0 12.6 0a6.3 6.3 0 1 0 -12.6 0M93.1 1380.8a6.3 6.3 0 1 0 12.6 0a6.3 6.3 0 1 0 -12.6 0M101.7 1380.4a6.3 6.3 0 1 0 12.6 0a6.3 6.3 0 1 0 -12.6 0M110.3 1380a6.3 6.3 0 1 0 12.6 0a6.3 6.3 0 1 0 -12.6 0M119 1379.5a6.3 6.3 0 1 0 12.6 0a6.3 6.3 0 1 0 -12.6 0M127.6 1379.1a6.3 6.3 0 1 0 12.6 0a6.3 6.3 0 1 0 -12.6 0M136.2 1378.7a6.3 6.3 0 1 0 12.6 0a6.3 6.3 0 1 0 -12.6 0M144.8 1378.2a6.3 6.3 0 1 0 12.6 0a6.3 6.3 0 1 0 -12.6 0M153.4 1377.8a6.3 6.3 0 1 0 12.6 0a6.3 6.3 0 1 0 -12.6 0M162 1377.4a6.3 6.3 0 1 0 12.6 0a6.3 6.3 0 1 0 -12.6 0M170.7 1376.9a6.3 6.3 0 1 0 12.6 0a6.3 6.3 0 1 0 -12.6 0M179.3 1376.5a6.3 6.3 0 1 0 12.6 0a6.3 6.3 0 1 0 -12.6 0M187.9 1376.4a6.3 6.3 0 1 0 12.6 0a6.3 6.3 0 1 0 -12.6 0M196.5 1376.4a6.3 6.3 0 1 0 12.6 0a6.3 6.3 0 1 0 -12.6 0M205.1 1376.4a6.3 6.3 0 1 0 12.6 0a6.3 6.3 0 1 0 -12.6 0M213.7 1376.4a6.3 6.3 0 1 0 12.6 0a6.3 6.3 0 1 0 -12.6 0M222.4 1376.4a6.3 6.3 0 1 0 12.6 0a6.3 6.3 0 1 0 -12.6 0M231 1376.4a6.3 6.3 0 1 0 12.6 0a6.3 6.3 0 1 0 -12.6 0M239.6 1376.4a6.3 6.3 0 1 0 12.6 0a6.3 6.3 0 1 0 -12.6 0M248.2 1376.4a6.3 6.3 0 1 0 12.6 0a6.3 6.3 0 1 0 -12.6 0M256.8 1376.4a6.3 6.3 0 1 0 12.6 0a6.3 6.3 0 1 0 -12.6 0M265.4 1376.4a6.3 6.3 0 1 0 12.6 0a6.3 6.3 0 1 0 -12.6 0M274.1 1376.4a6.3 6.3 0 1 0 12.6 0a6.3 6.3 0 1 0 -12.6 0M282.7 1376.4a6.3 6.3 0 1 0 12.6 0a6.3 6.3 0 1 0 -12.6 0M291.3 1376.4a6.3 6.3 0 1 0 12.6 0a6.3 6.3 0 1 0 -12.6 0M299.9 1376.5a6.3 6.3 0 1 0 12.6 0a6.3 6.3 0 1 0 -12.6 0M308.5 1376.7a6.3 6.3 0 1 0 12.6 0a6.3 6.3 0 1 0 -12.6 0M317.1 1376.9a6.3 6.3 0 1 0 12.6 0a6.3 6.3 0 1 0 -12.6 0M325.7 1377.1a6.3 6.3 0 1 0 12.6 0a6.3 6.3 0 1 0 -12.6 0M334.4 1377.3a6.3 6.3 0 1 0 12.6 0a6.3 6.3 0 1 0 -12.6 0M343 1377.5a6.3 6.3 0 1 0 12.6 0a6.3 6.3 0 1 0 -12.6 0M351.6 1377.7a6.3 6.3 0 1 0 12.6 0a6.3 6.3 0 1 0 -12.6 0M360.2 1377.9a6.3 6.3 0 1 0 12.6 0a6.3 6.3 0 1 0 -12.6 0M368.8 1378.1a6.3 6.3 0 1 0 12.6 0a6.3 6.3 0 1 0 -12.6 0M377.4 1378.3a6.3 6.3 0 1 0 12.6 0a6.3 6.3 0 1 0 -12.6 0M386.1 1378.5a6.3 6.3 0 1 0 12.6 0a6.3 6.3 0 1 0 -12.6 0M394.7 1378.7a6.3 6.3 0 1 0 12.6 0a6.3 6.3 0 1 0 -12.6 0M403.3 1378.9a6.3 6.3 0 1 0 12.6 0a6.3 6.3 0 1 0 -12.6 0M411.9 1379.1a6.3 6.3 0 1 0 12.6 0a6.3 6.3 0 1 0 -12.6 0M420.5 1379.4a6.3 6.3 0 1 0 12.6 0a6.3 6.3 0 1 0 -12.6 0M429.1 1379.6a6.3 6.3 0 1 0 12.6 0a6.3 6.3 0 1 0 -12.6 0M438.8 1379.8a6.3 6.3 0 1 0 12.6 0a6.3 6.3 0 1 0 -12.6 0M449.3 1528.6a6.3 6.3 0 1 0 12.6 0a6.3 6.3 0 1 0 -12.6 0M453.6 1558.7a6.3 6.3 0 1 0 12.6 0a6.3 6.3 0 1 0 -12.6 0M457.7 1559.4a6.3 6.3 0 1 0 12.6 0a6.3 6.3 0 1 0 -12.6 0M463.6 1559.6a6.3 6.3 0 1 0 12.6 0a6.3 6.3 0 1 0 -12.6 0M472.2 1560.2a6.3 6.3 0 1 0 12.6 0a6.3 6.3 0 1 0 -12.6 0M480.8 1560.8a6.3 6.3 0 1 0 12.6 0a6.3 6.3 0 1 0 -12.6 0M489.5 1561.5a6.3 6.3 0 1 0 12.6 0a6.3 6.3 0 1 0 -12.6 0M498.1 1562.2a6.3 6.3 0 1 0 12.6 0a6.3 6.3 0 1 0 -12.6 0M506.7 1562.7a6.3 6.3 0 1 0 12.6 0a6.3 6.3 0 1 0 -12.6 0M515.3 1563a6.3 6.3 0 1 0 12.6 0a6.3 6.3 0 1 0 -12.6 0M523.9 1563a6.3 6.3 0 1 0 12.6 0a6.3 6.3 0 1 0 -12.6 0M532.5 1562.8a6.3 6.3 0 1 0 12.6 0a6.3 6.3 0 1 0 -12.6 0M541.1 1562.4a6.3 6.3 0 1 0 12.6 0a6.3 6.3 0 1 0 -12.6 0M549.8 1561.9a6.3 6.3 0 1 0 12.6 0a6.3 6.3 0 1 0 -12.6 0M558.4 1561.2a6.3 6.3 0 1 0 12.6 0a6.3 6.3 0 1 0 -12.6 0M567 1560.5a6.3 6.3 0 1 0 12.6 0a6.3 6.3 0 1 0 -12.6 0M575.6 1559.9a6.3 6.3 0 1 0 12.6 0a6.3 6.3 0 1 0 -12.6 0M584.2 1559.4a6.3 6.3 0 1 0 12.6 0a6.3 6.3 0 1 0 -12.6 0M592.8 1559.2a6.3 6.3 0 1 0 12.6 0a6.3 6.3 0 1 0 -12.6 0M601.5 1559.2a6.3 6.3 0 1 0 12.6 0a6.3 6.3 0 1 0 -12.6 0M610.1 1559.4a6.3 6.3 0 1 0 12.6 0a6.3 6.3 0 1 0 -12.6 0M618.7 1559.8a6.3 6.3 0 1 0 12.6 0a6.3 6.3 0 1 0 -12.6 0M627.3 1560.4a6.3 6.3 0 1 0 12.6 0a6.3 6.3 0 1 0 -12.6 0M635.9 1561.1a6.3 6.3 0 1 0 12.6 0a6.3 6.3 0 1 0 -12.6 0M644.5 1561.8a6.3 6.3 0 1 0 12.6 0a6.3 6.3 0 1 0 -12.6 0M653.2 1562.3a6.3 6.3 0 1 0 12.6 0a6.3 6.3 0 1 0 -12.6 0M661.8 1562.8a6.3 6.3 0 1 0 12.6 0a6.3 6.3 0 1 0 -12.6 0M670.4 1563a6.3 6.3 0 1 0 12.6 0a6.3 6.3 0 1 0 -12.6 0M679 1563a6.3 6.3 0 1 0 12.6 0a6.3 6.3 0 1 0 -12.6 0M687.6 1562.7a6.3 6.3 0 1 0 12.6 0a6.3 6.3 0 1 0 -12.6 0M696.2 1562.3a6.3 6.3 0 1 0 12.6 0a6.3 6.3 0 1 0 -12.6 0M704.9 1561.7a6.3 6.3 0 1 0 12.6 0a6.3 6.3 0 1 0 -12.6 0M713.5 1561a6.3 6.3 0 1 0 12.6 0a6.3 6.3 0 1 0 -12.6 0M722.1 1560.3a6.3 6.3 0 1 0 12.6 0a6.3 6.3 0 1 0 -12.6 0M730.7 1559.7a6.3 6.3 0 1 0 12.6 0a6.3 6.3 0 1 0 -12.6 0" fill="#f44141"/>
<path d="M386.9 1553.7L383.7 1507.4M382.7 1491.6L376.3 1401.7" fill="none" stroke="#f43a3a" stroke-width="3.0"/>
<path d="M730.7 1565.6a6.3 6.3 0 1 0 12.6 0a6.3 6.3 0 1 0 -12.6 0M722.1 1566.1a6.3 6.3 0 1 0 12.6 0a6.3 6.3 0 1 0 -12.6 0M713.5 1566.8a6.3 6.3 0 1 0 12.6 0a6.3 6.3 0 1 0 -12.6 0M704.9 1567.5a6.3 6.3 0 1 0 12.6 0a6.3 6.3 0 1 0 -12.6 0M696.2 1568.1a6.3 6.3 0 1 0 12.6 0a6.3 6.3 0 1 0 -12.6 0M687.6 1568.5a6.3 6.3 0 1 0 12.6 0a6.3 6.3 0 1 0 -12.6 0M679 1568.8a6.3 6.3 0 1 0 12.6 0a6.3 6.3 0 1 0 -12.6 0M670.4 1568.8a6.3 6.3 0 1 0 12.6 0a6.3 6.3 0 1 0 -12.6 0M661.8 1568.6a6.3 6.3 0 1 0 12.6 0a6.3 6.3 0 1 0 -12.6 0M653.2 1568.2a6.3 6.3 0 1 0 12.6 0a6.3 6.3 0 1 0 -12.6 0M644.5 1567.6a6.3 6.3 0 1 0 12.6 0a6.3 6.3 0 1 0 -12.6 0M635.9 1566.9a6.3 6.3 0 1 0 12.6 0a6.3 6.3 0 1 0 -12.6 0M627.3 1566.2a6.3 6.3 0 1 0 12.6 0a6.3 6.3 0 1 0 -12.6 0M618.7 1565.6a6.3 6.3 0 1 0 12.6 0a6.3 6.3 0 1 0 -12.6 0M610.1 1565.2a6.3 6.3 0 1 0 12.6 0a6.3 6.3 0 1 0 -12.6 0M601.5 1565a6.3 6.3 0 1 0 12.6 0a6.3 6.3 0 1 0 -12.6 0M592.8 1565a6.3 6.3 0 1 0 12.6 0a6.3 6.3 0 1 0 -12.6 0M584.2 1565.3a6.3 6.3 0 1 0 12.6 0a6.3 6.3 0 1 0 -12.6 0M575.6 1565.7a6.3 6.3 0 1 0 12.6 0a6.3 6.3 0 1 0 -12.6 0M567 1566.3a6.3 6.3 0 1 0 12.6 0a6.3 6.3 0 1 0 -12.6 0M558.4 1567a6.3 6.3 0 1 0 12.6 0a6.3 6.3 0 1 0 -12.6 0M549.8 1567.7a6.3 6.3 0 1 0 12.6 0a6.3 6.3 0 1 0 -12.6 0M541.1 1568.2a6.3 6.3 0 1 0 12.6 0a6.3 6.3 0 1 0 -12.6 0M532.5 1568.6a6.3 6.3 0 1 0 12.6 0a6.3 6.3 0 1 0 -12.6 0M523.9 1568.8a6.3 6.3 0 1 0 12.6 0a6.3 6.3 0 1 0 -12.6 0M515.3 1568.8a6.3 6.3 0 1 0 12.6 0a6.3 6.3 0 1 0 -12.6 0M506.7 1568.5a6.3 6.3 0 1 0 12.6 0a6.3 6.3 0 1 0 -12.6 0M498.1 1568a6.3 6.3 0 1 0 12.6 0a6.3 6.3 0 1 0 -12.6 0M489.5 1567.4a6.3 6.3 0 1 0 12.6 0a6.3 6.3 0 1 0 -12.6 0M480.8 1566.7a6.3 6.3 0 1 0 12.6 0a6.3 6.3 0 1 0 -12.6 0M472.2 1566a6.3 6.3 0 1 0 12.6 0a6.3 6.3 0 1 0 -12.6 0M463.6 1565.5a6.3 6.3 0 1 0 12.6 0a6.3 6.3 0 1 0 -12.6 0M455 1565.1a6.3 6.3 0 1 0 12.6 0a6.3 6.3 0 1 0 -12.6 0M446.4 1566.2a6.3 6.3 0 1 0 12.6 0a6.3 6.3 0 1 0 -12.6 0M437.8 1565.6a6.3 6.3 0 1 0 12.6 0a6.3 6.3 0 1 0 -12.6 0M429.1 1565a6.3 6.3 0 1 0 12.6 0a6.3 6.3 0 1 0 -12.6 0M420.5 1564.4a6.3 6.3 0 1 0 12.6 0a6.3 6.3 0 1 0 -12.6 0M411.9 1563.8a6.3 6.3 0 1 0 12.6 0a6.3 6.3 0 1 0 -12.6 0M403.3 1563.2a6.3 6.3 0 1 0 12.6 0a6.3 6.3 0 1 0 -12.6 0M394.7 1562.5a6.3 6.3 0 1 0 12.6 0a6.3 6.3 0 1 0 -12.6 0M386.1 1561.9a6.3 6.3 0 1 0 12.6 0a6.3 6.3 0 1 0 -12.6 0M381.1 1561.6a6.3 6.3 0 1 0 12.6 0a6.3 6.3 0 1 0 -12.6 0M376.9 1499.5a6.3 6.3 0 1 0 12.6 0a6.3 6.3 0 1 0 -12.6 0M369.5 1393.9a6.3 6.3 0 1 0 12.6 0a6.3 6.3 0 1 0 -12.6 0M360.2 1393.9a6.3 6.3 0 1 0 12.6 0a6.3 6.3 0 1 0 -12.6 0M351.6 1393.9a6.3 6.3 0 1 0 12.6 0a6.3 6.3 0 1 0 -12.6 0M343 1393.9a6.3 6.3 0 1 0 12.6 0a6.3 6.3 0 1 0 -12.6 0M334.4 1393.7a6.3 6.3 0 1 0 12.6 0a6.3 6.3 0 1 0 -12.6 0M325.7 1391.9a6.3 6.3 0 1 0 12.6 0a6.3 6.3 0 1 0 -12.6 0M317.1 1390a6.3 6.3 0 1 0 12.6 0a6.3 6.3 0 1 0 -12.6 0M308.5 1388.1a6.3 6.3 0 1 0 12.6 0a6.3 6.3 0 1 0 -12.6 0M299.9 1386.3a6.3 6.3 0 1 0 12.6 0a6.3 6.3 0 1 0 -12.6 0M291.3 1384.4a6.3 6.3 0 1 0 12.6 0a6.3 6.3 0 1 0 -12.6 0M282.7 1383.7a6.3 6.3 0 1 0 12.6 0a6.3 6.3 0 1 0 -12.6 0M274.1 1383.6a6.3 6.3 0 1 0 12.6 0a6.3 6.3 0 1 0 -12.6 0M265.4 1383.6a6.3 6.3 0 1 0 12.6 0a6.3 6.3 0 1 0 -12.6 0M256.8 1383.6a6.3 6.3 0 1 0 12.6 0a6.3 6.3 0 1 0 -12.6 0M248.2 1383.5a6.3 6.3 0 1 0 12.6 0a6.3 6.3 0 1 0 -12.6 0M239.6 1383.5a6.3 6.3 0 1 0 12.6 0a6.3 6.3 0 1 0 -12.6 0M231 1383.5a6.3 6.3 0 1 0 12.6 0a6.3 6.3 0 1 0 -12.6 0M222.4 1383.4a6.3 6.3 0 1 0 12.6 0a6.3 6.3 0 1 0 -12.6 0M213.7 1383.4a6.3 6.3 0 1 0 12.6 0a6.3 6.3 0 1 0 -12.6 0M205.1 1383.4a6.3 6.3 0 1 0 12.6 0a6.3 6.3 0 1 0 -12.6 0M196.5 1383.3a6.3 6.3 0 1 0 12.6 0a6.3 6.3 0 1 0 -12.6 0M187.9 1383.3a6.3 6.3 0 1 0 12.6 0a6.3 6.3 0 1 0 -12.6 0M179.3 1383.3a6.3 6.3 0 1 0 12.6 0a6.3 6.3 0 1 0 -12.6 0M170.7 1383.2a6.3 6.3 0 1 0 12.6 0a6.3 6.3 0 1 0 -12.6 0M162 1383.3a6.3 6.3 0 1 0 12.6 0a6.3 6.3 0 1 0 -12.6 0M153.4 1383.6a6.3 6.3 0 1 0 12.6 0a6.3 6.3 0 1 0 -12.6 0M144.8 1383.9a6.3 6.3 0 1 0 12.6 0a6.3 6.3 0 1 0 -12.6 0M136.2 1384.2a6.3 6.3 0 1 0 12.6 0a6.3 6.3 0 1 0 -12.6 0M127.6 1384.6a6.3 6.3 0 1 0 12.6 0a6.3 6.3 0 1 0 -12.6 0M119 1384.9a6.3 6.3 0 1 0 12.6 0a6.3 6.3 0 1 0 -12.6 0M110.3 1385.2a6.3 6.3 0 1 0 12.6 0a6.3 6.3 0 1 0 -12.6 0M101.7 1385.5a6.3 6.3 0 1 0 12.6 0a6.3 6.3 0 1 0 -12.6 0M93.1 1385.8a6.3 6.3 0 1 0 12.6 0a6.3 6.3 0 1 0 -12.6 0M84.5 1386.1a6.3 6.3 0 1 0 12.6 0a6.3 6.3 0 1 0 -12.6 0" fill="#f44141"/>
</g>
<rect x="90.8" y="1231" width="646.2" height="484.7" fill="none" stroke="#000" stroke-width="5.2"/>
<text x="90.8" y="1750.7" font-size="31" text-anchor="middle" font-family="'Liberation Serif','Times New Roman',serif" >-20</text>
<text x="413.9" y="1750.7" font-size="31" text-anchor="middle" font-family="'Liberation Serif','Times New Roman',serif" >0</text>
<text x="737" y="1750.7" font-size="31" text-anchor="middle" font-family="'Liberation Serif','Times New Roman',serif" >20</text>
<text x="80" y="1385.4" font-size="31" text-anchor="end" font-family="'Liberation Serif','Times New Roman',serif" >1</text>
<text x="80" y="1482.3" font-size="31" text-anchor="end" font-family="'Liberation Serif','Times New Roman',serif" >0</text>
<text x="80" y="1579.3" font-size="31" text-anchor="end" font-family="'Liberation Serif','Times New Roman',serif" >-1</text>
<text x="348" y="1789" font-size="42" font-family="'Liberation Serif','Times New Roman',serif"><tspan font-style="italic">H</tspan><tspan font-size="27.7" dy="10.9">z</tspan><tspan dy="-10.9"> (Oe)</tspan></text>
<text transform="translate(31 1474.8) rotate(-90)" text-anchor="middle" font-size="42" font-family="'Liberation Serif','Times New Roman',serif"><tspan font-style="italic">R</tspan><tspan font-size="28" dy="11.5">H</tspan><tspan dy="-11.5"> (a.u.)</tspan></text>
<path d="M440.2 1264.8H466.1M479.7 1264.8H504.4" stroke="#4a4a4a" stroke-width="3.6"/>
<rect x="467.4" y="1259.3" width="11" height="11" fill="#505050"/>
<line x1="440.2" y1="1307.2" x2="504.4" y2="1307.2" stroke="#f43a3a" stroke-width="3.6"/>
<circle cx="472.9" cy="1307.2" r="6" fill="#f44141"/>
<text x="511" y="1274.6" font-size="33" font-family="'Liberation Serif','Times New Roman',serif">7.5x10<tspan font-size="22.1" dy="-11.5">9</tspan><tspan dy="11.5"> A/m</tspan><tspan font-size="22.1" dy="-11.5">2</tspan></text>
<text x="512.5" y="1317" font-size="33" font-family="'Liberation Serif','Times New Roman',serif">-7.5x10<tspan font-size="22.1" dy="-11.5">9</tspan><tspan dy="11.5"> A/m</tspan><tspan font-size="22.1" dy="-11.5">2</tspan></text>
<path d="M900.4 549v-10.5M900.4 64.7v10.5M1223.7 549v-10.5M1223.7 64.7v10.5M1547 549v-10.5M1547 64.7v10.5M1062 549v-5.5M1062 64.7v5.5M1385.3 549v-5.5M1385.3 64.7v5.5M900.4 403.7h10.5M1547 403.7h-10.5M900.4 306.9h10.5M1547 306.9h-10.5M900.4 210h10.5M1547 210h-10.5" stroke="#000" stroke-width="4.6" fill="none"/>
<g clip-path="url(#cd)">
<path d="M1263 217.1L1274.9 388.9M1280.3 401.1L1283.5 404.4" fill="none" stroke="#4a4a4a" stroke-width="3.0"/>
<path d="M894.9 204.5h11v11h-11zM907.8 204.5h11v11h-11zM920.8 204.5h11v11h-11zM933.7 204.5h11v11h-11zM946.6 204.5h11v11h-11zM959.6 204.5h11v11h-11zM972.5 204.5h11v11h-11zM985.4 204.5h11v11h-11zM998.4 204.5h11v11h-11zM1011.3 204.5h11v11h-11zM1024.2 204.5h11v11h-11zM1037.2 204.5h11v11h-11zM1050.1 204.5h11v11h-11zM1063 204.5h11v11h-11zM1075.9 204.5h11v11h-11zM1088.9 204.5h11v11h-11zM1101.8 204.5h11v11h-11zM1114.7 204.5h11v11h-11zM1127.7 204.5h11v11h-11zM1140.6 204.5h11v11h-11zM1153.5 204.5h11v11h-11zM1166.5 204.5h11v11h-11zM1179.4 204.5h11v11h-11zM1192.3 204.5h11v11h-11zM1205.3 204.5h11v11h-11zM1218.2 204.5h11v11h-11zM1231.1 204.5h11v11h-11zM1244.1 204.5h11v11h-11zM1257 204.5h11v11h-11zM1269.9 390.5h11v11h-11zM1282.9 404h11v11h-11zM1295.8 404.1h11v11h-11zM1308.7 404.1h11v11h-11zM1321.7 404.2h11v11h-11zM1334.6 404.2h11v11h-11zM1347.5 404.3h11v11h-11zM1360.5 404.3h11v11h-11zM1373.4 404.4h11v11h-11zM1386.3 404.4h11v11h-11zM1399.2 404.5h11v11h-11zM1412.2 404.5h11v11h-11zM1425.1 404.6h11v11h-11zM1438 404.6h11v11h-11zM1451 404.7h11v11h-11zM1463.9 404.7h11v11h-11zM1476.8 404.7h11v11h-11zM1489.8 404.8h11v11h-11zM1502.7 404.8h11v11h-11zM1515.6 404.9h11v11h-11zM1528.6 404.9h11v11h-11zM1541.5 405h11v11h-11z" fill="#505050"/>
<path d="M1172.5 217.1L1184.4 384M1189.1 396.8L1193.6 402.9" fill="none" stroke="#4a4a4a" stroke-width="3.0"/>
<path d="M894.9 204.5h11v11h-11zM907.8 204.5h11v11h-11zM920.8 204.5h11v11h-11zM933.7 204.5h11v11h-11zM946.6 204.5h11v11h-11zM959.6 204.5h11v11h-11zM972.5 204.5h11v11h-11zM985.4 204.5h11v11h-11zM998.4 204.5h11v11h-11zM1011.3 204.5h11v11h-11zM1024.2 204.5h11v11h-11zM1037.2 204.5h11v11h-11zM1050.1 204.5h11v11h-11zM1063 204.5h11v11h-11zM1075.9 204.5h11v11h-11zM1088.9 204.5h11v11h-11zM1101.8 204.5h11v11h-11zM1114.7 204.5h11v11h-11zM1127.7 204.5h11v11h-11zM1140.6 204.5h11v11h-11zM1153.5 204.5h11v11h-11zM1166.5 204.5h11v11h-11zM1179.4 385.6h11v11h-11zM1192.3 403.1h11v11h-11zM1205.3 403.1h11v11h-11zM1218.2 403.2h11v11h-11zM1231.1 403.2h11v11h-11zM1244.1 403.3h11v11h-11zM1257 403.3h11v11h-11zM1269.9 403.4h11v11h-11zM1282.9 403.4h11v11h-11zM1295.8 403.5h11v11h-11zM1308.7 403.5h11v11h-11zM1321.7 403.6h11v11h-11zM1334.6 403.6h11v11h-11zM1347.5 403.7h11v11h-11zM1360.5 403.8h11v11h-11zM1373.4 403.8h11v11h-11zM1386.3 403.9h11v11h-11zM1399.2 403.9h11v11h-11zM1412.2 404h11v11h-11zM1425.1 404h11v11h-11zM1438 404.1h11v11h-11zM1451 404.1h11v11h-11zM1463.9 404.2h11v11h-11zM1476.8 404.2h11v11h-11zM1489.8 404.3h11v11h-11zM1502.7 404.3h11v11h-11zM1515.6 404.4h11v11h-11zM1528.6 404.5h11v11h-11zM1541.5 404.5h11v11h-11z" fill="#505050"/>
<path d="M1241.2 216.5L1245 221.9M1250.8 236.2L1261.2 300M1263.5 315.7L1274.4 397.8" fill="none" stroke="#f43a3a" stroke-width="3.0"/>
<path d="M894.1 208.5a6.3 6.3 0 1 0 12.6 0a6.3 6.3 0 1 0 -12.6 0M907 208.6a6.3 6.3 0 1 0 12.6 0a6.3 6.3 0 1 0 -12.6 0M920 208.6a6.3 6.3 0 1 0 12.6 0a6.3 6.3 0 1 0 -12.6 0M932.9 208.7a6.3 6.3 0 1 0 12.6 0a6.3 6.3 0 1 0 -12.6 0M945.8 208.8a6.3 6.3 0 1 0 12.6 0a6.3 6.3 0 1 0 -12.6 0M958.8 208.8a6.3 6.3 0 1 0 12.6 0a6.3 6.3 0 1 0 -12.6 0M971.7 208.9a6.3 6.3 0 1 0 12.6 0a6.3 6.3 0 1 0 -12.6 0M984.6 208.9a6.3 6.3 0 1 0 12.6 0a6.3 6.3 0 1 0 -12.6 0M997.6 209a6.3 6.3 0 1 0 12.6 0a6.3 6.3 0 1 0 -12.6 0M1010.5 209a6.3 6.3 0 1 0 12.6 0a6.3 6.3 0 1 0 -12.6 0M1023.4 209.1a6.3 6.3 0 1 0 12.6 0a6.3 6.3 0 1 0 -12.6 0M1036.4 209.2a6.3 6.3 0 1 0 12.6 0a6.3 6.3 0 1 0 -12.6 0M1049.3 209.2a6.3 6.3 0 1 0 12.6 0a6.3 6.3 0 1 0 -12.6 0M1062.2 209.3a6.3 6.3 0 1 0 12.6 0a6.3 6.3 0 1 0 -12.6 0M1075.1 209.3a6.3 6.3 0 1 0 12.6 0a6.3 6.3 0 1 0 -12.6 0M1088.1 209.4a6.3 6.3 0 1 0 12.6 0a6.3 6.3 0 1 0 -12.6 0M1101 209.4a6.3 6.3 0 1 0 12.6 0a6.3 6.3 0 1 0 -12.6 0M1113.9 209.5a6.3 6.3 0 1 0 12.6 0a6.3 6.3 0 1 0 -12.6 0M1126.9 209.5a6.3 6.3 0 1 0 12.6 0a6.3 6.3 0 1 0 -12.6 0M1139.8 209.6a6.3 6.3 0 1 0 12.6 0a6.3 6.3 0 1 0 -12.6 0M1152.7 209.7a6.3 6.3 0 1 0 12.6 0a6.3 6.3 0 1 0 -12.6 0M1165.7 209.7a6.3 6.3 0 1 0 12.6 0a6.3 6.3 0 1 0 -12.6 0M1178.6 209.8a6.3 6.3 0 1 0 12.6 0a6.3 6.3 0 1 0 -12.6 0M1191.5 209.8a6.3 6.3 0 1 0 12.6 0a6.3 6.3 0 1 0 -12.6 0M1204.5 209.9a6.3 6.3 0 1 0 12.6 0a6.3 6.3 0 1 0 -12.6 0M1217.4 209.9a6.3 6.3 0 1 0 12.6 0a6.3 6.3 0 1 0 -12.6 0M1230.3 210a6.3 6.3 0 1 0 12.6 0a6.3 6.3 0 1 0 -12.6 0M1243.3 228.4a6.3 6.3 0 1 0 12.6 0a6.3 6.3 0 1 0 -12.6 0M1256.2 307.8a6.3 6.3 0 1 0 12.6 0a6.3 6.3 0 1 0 -12.6 0M1269.1 405.6a6.3 6.3 0 1 0 12.6 0a6.3 6.3 0 1 0 -12.6 0M1282.1 405.7a6.3 6.3 0 1 0 12.6 0a6.3 6.3 0 1 0 -12.6 0M1295 405.8a6.3 6.3 0 1 0 12.6 0a6.3 6.3 0 1 0 -12.6 0M1307.9 405.9a6.3 6.3 0 1 0 12.6 0a6.3 6.3 0 1 0 -12.6 0M1320.9 405.9a6.3 6.3 0 1 0 12.6 0a6.3 6.3 0 1 0 -12.6 0M1333.8 406a6.3 6.3 0 1 0 12.6 0a6.3 6.3 0 1 0 -12.6 0M1346.7 406.1a6.3 6.3 0 1 0 12.6 0a6.3 6.3 0 1 0 -12.6 0M1359.7 406.1a6.3 6.3 0 1 0 12.6 0a6.3 6.3 0 1 0 -12.6 0M1372.6 406.2a6.3 6.3 0 1 0 12.6 0a6.3 6.3 0 1 0 -12.6 0M1385.5 406.3a6.3 6.3 0 1 0 12.6 0a6.3 6.3 0 1 0 -12.6 0M1398.4 406.3a6.3 6.3 0 1 0 12.6 0a6.3 6.3 0 1 0 -12.6 0M1411.4 406.4a6.3 6.3 0 1 0 12.6 0a6.3 6.3 0 1 0 -12.6 0M1424.3 406.5a6.3 6.3 0 1 0 12.6 0a6.3 6.3 0 1 0 -12.6 0M1437.2 406.5a6.3 6.3 0 1 0 12.6 0a6.3 6.3 0 1 0 -12.6 0M1450.2 406.6a6.3 6.3 0 1 0 12.6 0a6.3 6.3 0 1 0 -12.6 0M1463.1 406.7a6.3 6.3 0 1 0 12.6 0a6.3 6.3 0 1 0 -12.6 0M1476 406.8a6.3 6.3 0 1 0 12.6 0a6.3 6.3 0 1 0 -12.6 0M1489 406.8a6.3 6.3 0 1 0 12.6 0a6.3 6.3 0 1 0 -12.6 0M1501.9 406.9a6.3 6.3 0 1 0 12.6 0a6.3 6.3 0 1 0 -12.6 0M1514.8 407a6.3 6.3 0 1 0 12.6 0a6.3 6.3 0 1 0 -12.6 0M1527.8 407a6.3 6.3 0 1 0 12.6 0a6.3 6.3 0 1 0 -12.6 0M1540.7 407.1a6.3 6.3 0 1 0 12.6 0a6.3 6.3 0 1 0 -12.6 0" fill="#f44141"/>
<path d="M1160 217.8L1171 306.8M1173.1 322.4L1183.8 399.8" fill="none" stroke="#f43a3a" stroke-width="3.0"/>
<path d="M894.1 208.5a6.3 6.3 0 1 0 12.6 0a6.3 6.3 0 1 0 -12.6 0M907 208.6a6.3 6.3 0 1 0 12.6 0a6.3 6.3 0 1 0 -12.6 0M920 208.7a6.3 6.3 0 1 0 12.6 0a6.3 6.3 0 1 0 -12.6 0M932.9 208.8a6.3 6.3 0 1 0 12.6 0a6.3 6.3 0 1 0 -12.6 0M945.8 208.8a6.3 6.3 0 1 0 12.6 0a6.3 6.3 0 1 0 -12.6 0M958.8 208.9a6.3 6.3 0 1 0 12.6 0a6.3 6.3 0 1 0 -12.6 0M971.7 209a6.3 6.3 0 1 0 12.6 0a6.3 6.3 0 1 0 -12.6 0M984.6 209a6.3 6.3 0 1 0 12.6 0a6.3 6.3 0 1 0 -12.6 0M997.6 209.1a6.3 6.3 0 1 0 12.6 0a6.3 6.3 0 1 0 -12.6 0M1010.5 209.2a6.3 6.3 0 1 0 12.6 0a6.3 6.3 0 1 0 -12.6 0M1023.4 209.3a6.3 6.3 0 1 0 12.6 0a6.3 6.3 0 1 0 -12.6 0M1036.4 209.3a6.3 6.3 0 1 0 12.6 0a6.3 6.3 0 1 0 -12.6 0M1049.3 209.4a6.3 6.3 0 1 0 12.6 0a6.3 6.3 0 1 0 -12.6 0M1062.2 209.5a6.3 6.3 0 1 0 12.6 0a6.3 6.3 0 1 0 -12.6 0M1075.1 209.6a6.3 6.3 0 1 0 12.6 0a6.3 6.3 0 1 0 -12.6 0M1088.1 209.6a6.3 6.3 0 1 0 12.6 0a6.3 6.3 0 1 0 -12.6 0M1101 209.7a6.3 6.3 0 1 0 12.6 0a6.3 6.3 0 1 0 -12.6 0M1113.9 209.8a6.3 6.3 0 1 0 12.6 0a6.3 6.3 0 1 0 -12.6 0M1126.9 209.8a6.3 6.3 0 1 0 12.6 0a6.3 6.3 0 1 0 -12.6 0M1139.8 209.9a6.3 6.3 0 1 0 12.6 0a6.3 6.3 0 1 0 -12.6 0M1152.7 210a6.3 6.3 0 1 0 12.6 0a6.3 6.3 0 1 0 -12.6 0M1165.7 314.6a6.3 6.3 0 1 0 12.6 0a6.3 6.3 0 1 0 -12.6 0M1178.6 407.6a6.3 6.3 0 1 0 12.6 0a6.3 6.3 0 1 0 -12.6 0M1191.5 407.6a6.3 6.3 0 1 0 12.6 0a6.3 6.3 0 1 0 -12.6 0M1204.5 407.5a6.3 6.3 0 1 0 12.6 0a6.3 6.3 0 1 0 -12.6 0M1217.4 407.5a6.3 6.3 0 1 0 12.6 0a6.3 6.3 0 1 0 -12.6 0M1230.3 407.5a6.3 6.3 0 1 0 12.6 0a6.3 6.3 0 1 0 -12.6 0M1243.3 407.5a6.3 6.3 0 1 0 12.6 0a6.3 6.3 0 1 0 -12.6 0M1256.2 407.5a6.3 6.3 0 1 0 12.6 0a6.3 6.3 0 1 0 -12.6 0M1269.1 407.5a6.3 6.3 0 1 0 12.6 0a6.3 6.3 0 1 0 -12.6 0M1282.1 407.4a6.3 6.3 0 1 0 12.6 0a6.3 6.3 0 1 0 -12.6 0M1295 407.4a6.3 6.3 0 1 0 12.6 0a6.3 6.3 0 1 0 -12.6 0M1307.9 407.4a6.3 6.3 0 1 0 12.6 0a6.3 6.3 0 1 0 -12.6 0M1320.9 407.4a6.3 6.3 0 1 0 12.6 0a6.3 6.3 0 1 0 -12.6 0M1333.8 407.4a6.3 6.3 0 1 0 12.6 0a6.3 6.3 0 1 0 -12.6 0M1346.7 407.4a6.3 6.3 0 1 0 12.6 0a6.3 6.3 0 1 0 -12.6 0M1359.7 407.3a6.3 6.3 0 1 0 12.6 0a6.3 6.3 0 1 0 -12.6 0M1372.6 407.3a6.3 6.3 0 1 0 12.6 0a6.3 6.3 0 1 0 -12.6 0M1385.5 407.3a6.3 6.3 0 1 0 12.6 0a6.3 6.3 0 1 0 -12.6 0M1398.4 407.3a6.3 6.3 0 1 0 12.6 0a6.3 6.3 0 1 0 -12.6 0M1411.4 407.3a6.3 6.3 0 1 0 12.6 0a6.3 6.3 0 1 0 -12.6 0M1424.3 407.3a6.3 6.3 0 1 0 12.6 0a6.3 6.3 0 1 0 -12.6 0M1437.2 407.2a6.3 6.3 0 1 0 12.6 0a6.3 6.3 0 1 0 -12.6 0M1450.2 407.2a6.3 6.3 0 1 0 12.6 0a6.3 6.3 0 1 0 -12.6 0M1463.1 407.2a6.3 6.3 0 1 0 12.6 0a6.3 6.3 0 1 0 -12.6 0M1476 407.2a6.3 6.3 0 1 0 12.6 0a6.3 6.3 0 1 0 -12.6 0M1489 407.2a6.3 6.3 0 1 0 12.6 0a6.3 6.3 0 1 0 -12.6 0M1501.9 407.2a6.3 6.3 0 1 0 12.6 0a6.3 6.3 0 1 0 -12.6 0M1514.8 407.1a6.3 6.3 0 1 0 12.6 0a6.3 6.3 0 1 0 -12.6 0M1527.8 407.1a6.3 6.3 0 1 0 12.6 0a6.3 6.3 0 1 0 -12.6 0M1540.7 407.1a6.3 6.3 0 1 0 12.6 0a6.3 6.3 0 1 0 -12.6 0" fill="#f44141"/>
<line x1="1217.6" y1="64.7" x2="1217.6" y2="549" stroke="#ff0000" stroke-width="2.5" stroke-dasharray="9.8 9.9" stroke-dashoffset="19.4"/>
<line x1="1226.4" y1="64.7" x2="1226.4" y2="549" stroke="#000" stroke-width="2.8" stroke-dasharray="7.4 12.3" stroke-dashoffset="15.9" stroke-linecap="round"/>
</g>
<rect x="900.4" y="64.7" width="646.6" height="484.3" fill="none" stroke="#000" stroke-width="5.2"/>
<text x="900.4" y="584" font-size="31" text-anchor="middle" font-family="'Liberation Serif','Times New Roman',serif" >-20</text>
<text x="1223.7" y="584" font-size="31" text-anchor="middle" font-family="'Liberation Serif','Times New Roman',serif" >0</text>
<text x="1547" y="584" font-size="31" text-anchor="middle" font-family="'Liberation Serif','Times New Roman',serif" >20</text>
<text x="889.6" y="219" font-size="31" text-anchor="end" font-family="'Liberation Serif','Times New Roman',serif" >1</text>
<text x="889.6" y="315.9" font-size="31" text-anchor="end" font-family="'Liberation Serif','Times New Roman',serif" >0</text>
<text x="889.6" y="412.7" font-size="31" text-anchor="end" font-family="'Liberation Serif','Times New Roman',serif" >-1</text>
<text x="1158.2" y="621.5" font-size="42" font-family="'Liberation Serif','Times New Roman',serif"><tspan font-style="italic">H</tspan><tspan font-size="27.7" dy="10.9">z</tspan><tspan dy="-10.9"> (Oe)</tspan></text>
<text transform="translate(841.6 308.4) rotate(-90)" text-anchor="middle" font-size="42" font-family="'Liberation Serif','Times New Roman',serif"><tspan font-style="italic">R</tspan><tspan font-size="28" dy="11.5">H</tspan><tspan dy="-11.5"> (a.u.)</tspan></text>
<path d="M1255.6 91.9H1281.1M1294.7 91.9H1319.8" stroke="#4a4a4a" stroke-width="3.6"/>
<rect x="1282.4" y="86.4" width="11" height="11" fill="#505050"/>
<line x1="1255.6" y1="134.3" x2="1319.8" y2="134.3" stroke="#f43a3a" stroke-width="3.6"/>
<circle cx="1287.9" cy="134.3" r="6" fill="#f44141"/>
<text x="1325.5" y="101.6" font-size="33" font-family="'Liberation Serif','Times New Roman',serif">2.5x10<tspan font-size="22.1" dy="-11.5">9</tspan><tspan dy="11.5"> A/m</tspan><tspan font-size="22.1" dy="-11.5">2</tspan></text>
<text x="1327" y="143" font-size="33" font-family="'Liberation Serif','Times New Roman',serif">-2.5x10<tspan font-size="22.1" dy="-11.5">9</tspan><tspan dy="11.5"> A/m</tspan><tspan font-size="22.1" dy="-11.5">2</tspan></text>
<path d="M900.4 1131.8v-10.5M900.4 647.7v10.5M1223.7 1131.8v-10.5M1223.7 647.7v10.5M1547 1131.8v-10.5M1547 647.7v10.5M1062 1131.8v-5.5M1062 647.7v5.5M1385.3 1131.8v-5.5M1385.3 647.7v5.5M900.4 986.6h10.5M1547 986.6h-10.5M900.4 889.8h10.5M1547 889.8h-10.5M900.4 792.9h10.5M1547 792.9h-10.5" stroke="#000" stroke-width="4.6" fill="none"/>
<g clip-path="url(#ce)">
<path d="M1264.1 810.5L1273.8 852.8M1276.3 866.8L1287.5 962.1" fill="none" stroke="#4a4a4a" stroke-width="3.0"/>
<path d="M894.9 784.5h11v11h-11zM907.8 784.7h11v11h-11zM920.8 784.9h11v11h-11zM933.7 785.1h11v11h-11zM946.6 785.3h11v11h-11zM959.6 785.5h11v11h-11zM972.5 785.7h11v11h-11zM985.4 785.9h11v11h-11zM998.4 786.1h11v11h-11zM1011.3 786.3h11v11h-11zM1024.2 786.5h11v11h-11zM1037.2 786.7h11v11h-11zM1050.1 786.8h11v11h-11zM1063 787h11v11h-11zM1075.9 787.2h11v11h-11zM1088.9 787.4h11v11h-11zM1101.8 788.4h11v11h-11zM1114.7 789.4h11v11h-11zM1127.7 790.3h11v11h-11zM1140.6 791.3h11v11h-11zM1153.5 791.3h11v11h-11zM1166.5 793.2h11v11h-11zM1179.4 794.2h11v11h-11zM1192.3 796.1h11v11h-11zM1205.3 797.1h11v11h-11zM1218.2 798.1h11v11h-11zM1231.1 798.1h11v11h-11zM1244.1 798.1h11v11h-11zM1257 798.1h11v11h-11zM1269.9 854.2h11v11h-11zM1282.9 963.6h11v11h-11zM1295.8 966.5h11v11h-11zM1308.7 971.4h11v11h-11zM1321.7 973.3h11v11h-11zM1334.6 975.3h11v11h-11zM1347.5 976.2h11v11h-11zM1360.5 977.2h11v11h-11zM1373.4 978.2h11v11h-11zM1386.3 978.2h11v11h-11zM1399.2 978.2h11v11h-11zM1412.2 978.2h11v11h-11zM1425.1 978.2h11v11h-11zM1438 978.2h11v11h-11zM1451 978.2h11v11h-11zM1463.9 978.2h11v11h-11zM1476.8 978.2h11v11h-11zM1489.8 978.2h11v11h-11zM1502.7 978.2h11v11h-11zM1515.6 978.2h11v11h-11zM1528.6 978.2h11v11h-11zM1541.5 978.2h11v11h-11z" fill="#505050"/>
<path d="M1186.1 812.5L1196.7 876M1199.1 890L1209.5 944.7" fill="none" stroke="#4a4a4a" stroke-width="3.0"/>
<path d="M894.9 788.4h11v11h-11zM907.8 788.5h11v11h-11zM920.8 788.7h11v11h-11zM933.7 788.8h11v11h-11zM946.6 788.9h11v11h-11zM959.6 789h11v11h-11zM972.5 789.2h11v11h-11zM985.4 789.3h11v11h-11zM998.4 789.4h11v11h-11zM1011.3 789.6h11v11h-11zM1024.2 789.7h11v11h-11zM1037.2 789.8h11v11h-11zM1050.1 789.9h11v11h-11zM1063 790.1h11v11h-11zM1075.9 790.2h11v11h-11zM1088.9 790.3h11v11h-11zM1101.8 790.6h11v11h-11zM1114.7 790.8h11v11h-11zM1127.7 791.1h11v11h-11zM1140.6 791.3h11v11h-11zM1153.5 793.2h11v11h-11zM1166.5 795.2h11v11h-11zM1179.4 800h11v11h-11zM1192.3 877.5h11v11h-11zM1205.3 946.2h11v11h-11zM1218.2 949.1h11v11h-11zM1231.1 953h11v11h-11zM1244.1 955.9h11v11h-11zM1257 958.8h11v11h-11zM1269.9 964.6h11v11h-11zM1282.9 964.6h11v11h-11zM1295.8 966.5h11v11h-11zM1308.7 971.4h11v11h-11zM1321.7 973.3h11v11h-11zM1334.6 974.8h11v11h-11zM1347.5 976.2h11v11h-11zM1360.5 977.2h11v11h-11zM1373.4 978.2h11v11h-11zM1386.3 978.2h11v11h-11zM1399.2 978.2h11v11h-11zM1412.2 978.2h11v11h-11zM1425.1 978.2h11v11h-11zM1438 978.2h11v11h-11zM1451 978.2h11v11h-11zM1463.9 978.2h11v11h-11zM1476.8 978.2h11v11h-11zM1489.8 978.2h11v11h-11zM1502.7 978.2h11v11h-11zM1515.6 978.2h11v11h-11zM1528.6 978.2h11v11h-11zM1541.5 978.2h11v11h-11z" fill="#505050"/>
<path d="M1225.9 819.9L1234.5 850.2M1237.5 865.7L1248.7 973.9" fill="none" stroke="#f43a3a" stroke-width="3.0"/>
<path d="M894.1 789.1a6.3 6.3 0 1 0 12.6 0a6.3 6.3 0 1 0 -12.6 0M907 789.1a6.3 6.3 0 1 0 12.6 0a6.3 6.3 0 1 0 -12.6 0M920 789.2a6.3 6.3 0 1 0 12.6 0a6.3 6.3 0 1 0 -12.6 0M932.9 789.3a6.3 6.3 0 1 0 12.6 0a6.3 6.3 0 1 0 -12.6 0M945.8 789.4a6.3 6.3 0 1 0 12.6 0a6.3 6.3 0 1 0 -12.6 0M958.8 789.4a6.3 6.3 0 1 0 12.6 0a6.3 6.3 0 1 0 -12.6 0M971.7 789.5a6.3 6.3 0 1 0 12.6 0a6.3 6.3 0 1 0 -12.6 0M984.6 789.6a6.3 6.3 0 1 0 12.6 0a6.3 6.3 0 1 0 -12.6 0M997.6 789.7a6.3 6.3 0 1 0 12.6 0a6.3 6.3 0 1 0 -12.6 0M1010.5 789.8a6.3 6.3 0 1 0 12.6 0a6.3 6.3 0 1 0 -12.6 0M1023.4 789.8a6.3 6.3 0 1 0 12.6 0a6.3 6.3 0 1 0 -12.6 0M1036.4 789.9a6.3 6.3 0 1 0 12.6 0a6.3 6.3 0 1 0 -12.6 0M1049.3 790a6.3 6.3 0 1 0 12.6 0a6.3 6.3 0 1 0 -12.6 0M1062.2 790.8a6.3 6.3 0 1 0 12.6 0a6.3 6.3 0 1 0 -12.6 0M1075.1 792.3a6.3 6.3 0 1 0 12.6 0a6.3 6.3 0 1 0 -12.6 0M1088.1 793.9a6.3 6.3 0 1 0 12.6 0a6.3 6.3 0 1 0 -12.6 0M1101 795.8a6.3 6.3 0 1 0 12.6 0a6.3 6.3 0 1 0 -12.6 0M1113.9 797.8a6.3 6.3 0 1 0 12.6 0a6.3 6.3 0 1 0 -12.6 0M1126.9 801.6a6.3 6.3 0 1 0 12.6 0a6.3 6.3 0 1 0 -12.6 0M1139.8 802.1a6.3 6.3 0 1 0 12.6 0a6.3 6.3 0 1 0 -12.6 0M1152.7 802.6a6.3 6.3 0 1 0 12.6 0a6.3 6.3 0 1 0 -12.6 0M1165.7 803.6a6.3 6.3 0 1 0 12.6 0a6.3 6.3 0 1 0 -12.6 0M1178.6 807.5a6.3 6.3 0 1 0 12.6 0a6.3 6.3 0 1 0 -12.6 0M1191.5 810.4a6.3 6.3 0 1 0 12.6 0a6.3 6.3 0 1 0 -12.6 0M1204.5 811.3a6.3 6.3 0 1 0 12.6 0a6.3 6.3 0 1 0 -12.6 0M1217.4 812.3a6.3 6.3 0 1 0 12.6 0a6.3 6.3 0 1 0 -12.6 0M1230.3 857.8a6.3 6.3 0 1 0 12.6 0a6.3 6.3 0 1 0 -12.6 0M1243.3 981.7a6.3 6.3 0 1 0 12.6 0a6.3 6.3 0 1 0 -12.6 0M1256.2 986.6a6.3 6.3 0 1 0 12.6 0a6.3 6.3 0 1 0 -12.6 0M1269.1 986.6a6.3 6.3 0 1 0 12.6 0a6.3 6.3 0 1 0 -12.6 0M1282.1 986.6a6.3 6.3 0 1 0 12.6 0a6.3 6.3 0 1 0 -12.6 0M1295 986.6a6.3 6.3 0 1 0 12.6 0a6.3 6.3 0 1 0 -12.6 0M1307.9 986.6a6.3 6.3 0 1 0 12.6 0a6.3 6.3 0 1 0 -12.6 0M1320.9 986.6a6.3 6.3 0 1 0 12.6 0a6.3 6.3 0 1 0 -12.6 0M1333.8 986.6a6.3 6.3 0 1 0 12.6 0a6.3 6.3 0 1 0 -12.6 0M1346.7 986.6a6.3 6.3 0 1 0 12.6 0a6.3 6.3 0 1 0 -12.6 0M1359.7 986.6a6.3 6.3 0 1 0 12.6 0a6.3 6.3 0 1 0 -12.6 0M1372.6 986.6a6.3 6.3 0 1 0 12.6 0a6.3 6.3 0 1 0 -12.6 0M1385.5 986.6a6.3 6.3 0 1 0 12.6 0a6.3 6.3 0 1 0 -12.6 0M1398.4 986.6a6.3 6.3 0 1 0 12.6 0a6.3 6.3 0 1 0 -12.6 0M1411.4 986.6a6.3 6.3 0 1 0 12.6 0a6.3 6.3 0 1 0 -12.6 0M1424.3 986.6a6.3 6.3 0 1 0 12.6 0a6.3 6.3 0 1 0 -12.6 0M1437.2 986.6a6.3 6.3 0 1 0 12.6 0a6.3 6.3 0 1 0 -12.6 0M1450.2 986.6a6.3 6.3 0 1 0 12.6 0a6.3 6.3 0 1 0 -12.6 0M1463.1 986.6a6.3 6.3 0 1 0 12.6 0a6.3 6.3 0 1 0 -12.6 0M1476 986.6a6.3 6.3 0 1 0 12.6 0a6.3 6.3 0 1 0 -12.6 0M1489 986.6a6.3 6.3 0 1 0 12.6 0a6.3 6.3 0 1 0 -12.6 0M1501.9 986.6a6.3 6.3 0 1 0 12.6 0a6.3 6.3 0 1 0 -12.6 0M1514.8 986.6a6.3 6.3 0 1 0 12.6 0a6.3 6.3 0 1 0 -12.6 0M1527.8 986.6a6.3 6.3 0 1 0 12.6 0a6.3 6.3 0 1 0 -12.6 0M1540.7 986.6a6.3 6.3 0 1 0 12.6 0a6.3 6.3 0 1 0 -12.6 0" fill="#f44141"/>
<path d="M1159.7 820.2L1171.3 960.3" fill="none" stroke="#f43a3a" stroke-width="3.0"/>
<path d="M894.1 793.4a6.3 6.3 0 1 0 12.6 0a6.3 6.3 0 1 0 -12.6 0M907 793.5a6.3 6.3 0 1 0 12.6 0a6.3 6.3 0 1 0 -12.6 0M920 793.6a6.3 6.3 0 1 0 12.6 0a6.3 6.3 0 1 0 -12.6 0M932.9 793.6a6.3 6.3 0 1 0 12.6 0a6.3 6.3 0 1 0 -12.6 0M945.8 793.7a6.3 6.3 0 1 0 12.6 0a6.3 6.3 0 1 0 -12.6 0M958.8 793.8a6.3 6.3 0 1 0 12.6 0a6.3 6.3 0 1 0 -12.6 0M971.7 793.9a6.3 6.3 0 1 0 12.6 0a6.3 6.3 0 1 0 -12.6 0M984.6 794a6.3 6.3 0 1 0 12.6 0a6.3 6.3 0 1 0 -12.6 0M997.6 794a6.3 6.3 0 1 0 12.6 0a6.3 6.3 0 1 0 -12.6 0M1010.5 794.1a6.3 6.3 0 1 0 12.6 0a6.3 6.3 0 1 0 -12.6 0M1023.4 794.2a6.3 6.3 0 1 0 12.6 0a6.3 6.3 0 1 0 -12.6 0M1036.4 794.3a6.3 6.3 0 1 0 12.6 0a6.3 6.3 0 1 0 -12.6 0M1049.3 794.3a6.3 6.3 0 1 0 12.6 0a6.3 6.3 0 1 0 -12.6 0M1062.2 795a6.3 6.3 0 1 0 12.6 0a6.3 6.3 0 1 0 -12.6 0M1075.1 796.1a6.3 6.3 0 1 0 12.6 0a6.3 6.3 0 1 0 -12.6 0M1088.1 797.3a6.3 6.3 0 1 0 12.6 0a6.3 6.3 0 1 0 -12.6 0M1101 799.5a6.3 6.3 0 1 0 12.6 0a6.3 6.3 0 1 0 -12.6 0M1113.9 801.6a6.3 6.3 0 1 0 12.6 0a6.3 6.3 0 1 0 -12.6 0M1126.9 804.5a6.3 6.3 0 1 0 12.6 0a6.3 6.3 0 1 0 -12.6 0M1139.8 809.4a6.3 6.3 0 1 0 12.6 0a6.3 6.3 0 1 0 -12.6 0M1152.7 812.3a6.3 6.3 0 1 0 12.6 0a6.3 6.3 0 1 0 -12.6 0M1165.7 968.2a6.3 6.3 0 1 0 12.6 0a6.3 6.3 0 1 0 -12.6 0M1178.6 972a6.3 6.3 0 1 0 12.6 0a6.3 6.3 0 1 0 -12.6 0M1191.5 973a6.3 6.3 0 1 0 12.6 0a6.3 6.3 0 1 0 -12.6 0M1204.5 976.9a6.3 6.3 0 1 0 12.6 0a6.3 6.3 0 1 0 -12.6 0M1217.4 980.8a6.3 6.3 0 1 0 12.6 0a6.3 6.3 0 1 0 -12.6 0M1230.3 983.7a6.3 6.3 0 1 0 12.6 0a6.3 6.3 0 1 0 -12.6 0M1243.3 983.7a6.3 6.3 0 1 0 12.6 0a6.3 6.3 0 1 0 -12.6 0M1256.2 989.5a6.3 6.3 0 1 0 12.6 0a6.3 6.3 0 1 0 -12.6 0M1269.1 991.4a6.3 6.3 0 1 0 12.6 0a6.3 6.3 0 1 0 -12.6 0M1282.1 991.4a6.3 6.3 0 1 0 12.6 0a6.3 6.3 0 1 0 -12.6 0M1295 991.5a6.3 6.3 0 1 0 12.6 0a6.3 6.3 0 1 0 -12.6 0M1307.9 991.5a6.3 6.3 0 1 0 12.6 0a6.3 6.3 0 1 0 -12.6 0M1320.9 991.5a6.3 6.3 0 1 0 12.6 0a6.3 6.3 0 1 0 -12.6 0M1333.8 991.5a6.3 6.3 0 1 0 12.6 0a6.3 6.3 0 1 0 -12.6 0M1346.7 991.5a6.3 6.3 0 1 0 12.6 0a6.3 6.3 0 1 0 -12.6 0M1359.7 991.6a6.3 6.3 0 1 0 12.6 0a6.3 6.3 0 1 0 -12.6 0M1372.6 991.6a6.3 6.3 0 1 0 12.6 0a6.3 6.3 0 1 0 -12.6 0M1385.5 991.6a6.3 6.3 0 1 0 12.6 0a6.3 6.3 0 1 0 -12.6 0M1398.4 991.6a6.3 6.3 0 1 0 12.6 0a6.3 6.3 0 1 0 -12.6 0M1411.4 991.7a6.3 6.3 0 1 0 12.6 0a6.3 6.3 0 1 0 -12.6 0M1424.3 991.7a6.3 6.3 0 1 0 12.6 0a6.3 6.3 0 1 0 -12.6 0M1437.2 991.7a6.3 6.3 0 1 0 12.6 0a6.3 6.3 0 1 0 -12.6 0M1450.2 991.7a6.3 6.3 0 1 0 12.6 0a6.3 6.3 0 1 0 -12.6 0M1463.1 991.8a6.3 6.3 0 1 0 12.6 0a6.3 6.3 0 1 0 -12.6 0M1476 991.8a6.3 6.3 0 1 0 12.6 0a6.3 6.3 0 1 0 -12.6 0M1489 991.8a6.3 6.3 0 1 0 12.6 0a6.3 6.3 0 1 0 -12.6 0M1501.9 991.8a6.3 6.3 0 1 0 12.6 0a6.3 6.3 0 1 0 -12.6 0M1514.8 991.8a6.3 6.3 0 1 0 12.6 0a6.3 6.3 0 1 0 -12.6 0M1527.8 991.9a6.3 6.3 0 1 0 12.6 0a6.3 6.3 0 1 0 -12.6 0M1540.7 991.9a6.3 6.3 0 1 0 12.6 0a6.3 6.3 0 1 0 -12.6 0" fill="#f44141"/>
<line x1="1204.3" y1="647.7" x2="1204.3" y2="1131.8" stroke="#ff0000" stroke-width="2.2" stroke-dasharray="10.2 9.5" stroke-dashoffset="19.2"/>
<line x1="1238.7" y1="647.7" x2="1238.7" y2="1131.8" stroke="#000" stroke-width="2.2" stroke-dasharray="8 11.7" stroke-dashoffset="17.0" stroke-linecap="round"/>
</g>
<rect x="900.4" y="647.7" width="646.6" height="484.1" fill="none" stroke="#000" stroke-width="5.2"/>
<text x="900.4" y="1166.8" font-size="31" text-anchor="middle" font-family="'Liberation Serif','Times New Roman',serif" >-20</text>
<text x="1223.7" y="1166.8" font-size="31" text-anchor="middle" font-family="'Liberation Serif','Times New Roman',serif" >0</text>
<text x="1547" y="1166.8" font-size="31" text-anchor="middle" font-family="'Liberation Serif','Times New Roman',serif" >20</text>
<text x="889.6" y="801.9" font-size="31" text-anchor="end" font-family="'Liberation Serif','Times New Roman',serif" >1</text>
<text x="889.6" y="898.8" font-size="31" text-anchor="end" font-family="'Liberation Serif','Times New Roman',serif" >0</text>
<text x="889.6" y="995.6" font-size="31" text-anchor="end" font-family="'Liberation Serif','Times New Roman',serif" >-1</text>
<text x="1158.4" y="1202" font-size="42" font-family="'Liberation Serif','Times New Roman',serif"><tspan font-style="italic">H</tspan><tspan font-size="27.7" dy="10.9">z</tspan><tspan dy="-10.9"> (Oe)</tspan></text>
<text transform="translate(841.6 891.2) rotate(-90)" text-anchor="middle" font-size="42" font-family="'Liberation Serif','Times New Roman',serif"><tspan font-style="italic">R</tspan><tspan font-size="28" dy="11.5">H</tspan><tspan dy="-11.5"> (a.u.)</tspan></text>
<path d="M1284.5 677.6H1309.5M1323.1 677.6H1348.1" stroke="#4a4a4a" stroke-width="3.6"/>
<rect x="1310.8" y="672.1" width="11" height="11" fill="#505050"/>
<line x1="1284.5" y1="719.4" x2="1348.1" y2="719.4" stroke="#f43a3a" stroke-width="3.6"/>
<circle cx="1316.3" cy="719.4" r="6" fill="#f44141"/>
<text x="1354" y="686.6" font-size="33" font-family="'Liberation Serif','Times New Roman',serif">5x10<tspan font-size="22.1" dy="-11.5">9</tspan><tspan dy="11.5"> A/m</tspan><tspan font-size="22.1" dy="-11.5">2</tspan></text>
<text x="1356" y="729.3" font-size="33" font-family="'Liberation Serif','Times New Roman',serif">-5x10<tspan font-size="22.1" dy="-11.5">9</tspan><tspan dy="11.5"> A/m</tspan><tspan font-size="22.1" dy="-11.5">2</tspan></text>
<path d="M900.4 1707.5v-10.5M900.4 1222.9v10.5M1223.7 1707.5v-10.5M1223.7 1222.9v10.5M1547 1707.5v-10.5M1547 1222.9v10.5M1062 1707.5v-5.5M1062 1222.9v5.5M1385.3 1707.5v-5.5M1385.3 1222.9v5.5M900.4 1562.1h10.5M1547 1562.1h-10.5M900.4 1465.2h10.5M1547 1465.2h-10.5M900.4 1368.3h10.5M1547 1368.3h-10.5" stroke="#000" stroke-width="4.6" fill="none"/>
<g clip-path="url(#cf)">
<path d="M1223.6 1381.9L1232 1405.7M1235.5 1419.4L1246.1 1481.3M1262.2 1494.4L1271.3 1527.2M1276 1540.6L1283.5 1558.6" fill="none" stroke="#4a4a4a" stroke-width="3.0"/>
<path d="M904.3 1362.6h11v11h-11zM917.3 1362.3h11v11h-11zM930.2 1362.1h11v11h-11zM943.2 1361.8h11v11h-11zM956.2 1362h11v11h-11zM969.2 1362.2h11v11h-11zM982.2 1362.4h11v11h-11zM995.1 1362.6h11v11h-11zM1008.1 1362.8h11v11h-11zM1021.1 1362.8h11v11h-11zM1034.1 1362.8h11v11h-11zM1047.1 1362.8h11v11h-11zM1060 1362.8h11v11h-11zM1073 1362.8h11v11h-11zM1086 1362.4h11v11h-11zM1099 1362.1h11v11h-11zM1112 1361.8h11v11h-11zM1124.9 1362.8h11v11h-11zM1137.9 1363.8h11v11h-11zM1150.9 1364.8h11v11h-11zM1163.9 1365.7h11v11h-11zM1176.9 1366.7h11v11h-11zM1189.8 1368.5h11v11h-11zM1202.8 1368.7h11v11h-11zM1215.8 1369.7h11v11h-11zM1228.8 1406.9h11v11h-11zM1241.8 1482.8h11v11h-11zM1254.7 1482.1h11v11h-11zM1267.7 1528.6h11v11h-11zM1280.7 1559.7h11v11h-11zM1293.7 1561.6h11v11h-11zM1306.7 1562.2h11v11h-11zM1319.7 1561.8h11v11h-11zM1332.6 1561.5h11v11h-11zM1345.6 1561.5h11v11h-11zM1358.6 1561.5h11v11h-11zM1371.6 1561.8h11v11h-11zM1384.6 1565.2h11v11h-11zM1397.5 1568.4h11v11h-11zM1410.5 1570h11v11h-11zM1423.5 1571.5h11v11h-11zM1436.5 1571.5h11v11h-11zM1449.5 1570.4h11v11h-11zM1462.4 1567.8h11v11h-11zM1475.4 1564.7h11v11h-11zM1488.4 1564.2h11v11h-11zM1501.4 1564h11v11h-11zM1514.4 1563.8h11v11h-11zM1527.3 1563.6h11v11h-11zM1540.3 1563.4h11v11h-11z" fill="#505050"/>
<path d="M1227.4 1372.9L1228.2 1373.4M1253.4 1380.9L1254.1 1381.2M1327.5 1395.3L1335.8 1418.5M1339.1 1432.2L1350.2 1514.3M1366.1 1528.9L1375.1 1559.4" fill="none" stroke="#4a4a4a" stroke-width="3.0"/>
<path d="M904.3 1357.7h11v11h-11zM917.3 1357.5h11v11h-11zM930.2 1357.2h11v11h-11zM943.2 1357h11v11h-11zM956.2 1357.2h11v11h-11zM969.2 1357.4h11v11h-11zM982.2 1357.5h11v11h-11zM995.1 1357.7h11v11h-11zM1008.1 1357.9h11v11h-11zM1021.1 1357.3h11v11h-11zM1034.1 1356.8h11v11h-11zM1047.1 1356.2h11v11h-11zM1060 1355.6h11v11h-11zM1073 1355h11v11h-11zM1086 1354.4h11v11h-11zM1099 1353.7h11v11h-11zM1112 1353.1h11v11h-11zM1124.9 1354.1h11v11h-11zM1137.9 1355.1h11v11h-11zM1150.9 1356.1h11v11h-11zM1163.9 1358h11v11h-11zM1176.9 1359h11v11h-11zM1189.8 1361.6h11v11h-11zM1202.8 1362.8h11v11h-11zM1215.8 1363.8h11v11h-11zM1228.8 1371.5h11v11h-11zM1241.8 1371.9h11v11h-11zM1254.7 1379.3h11v11h-11zM1267.7 1379.4h11v11h-11zM1280.7 1383.1h11v11h-11zM1293.7 1383.2h11v11h-11zM1306.7 1383.9h11v11h-11zM1319.7 1383.2h11v11h-11zM1332.6 1419.7h11v11h-11zM1345.6 1515.8h11v11h-11zM1358.6 1516.6h11v11h-11zM1371.6 1560.7h11v11h-11zM1384.6 1563.7h11v11h-11zM1397.5 1566.5h11v11h-11zM1410.5 1568.5h11v11h-11zM1423.5 1570.4h11v11h-11zM1436.5 1570.5h11v11h-11zM1449.5 1569.5h11v11h-11zM1462.4 1566.9h11v11h-11zM1475.4 1563.7h11v11h-11zM1488.4 1563.4h11v11h-11zM1501.4 1563.4h11v11h-11zM1514.4 1563.4h11v11h-11zM1527.3 1563.4h11v11h-11zM1540.3 1563.4h11v11h-11z" fill="#505050"/>
<path d="M1080.4 1381.8L1089.6 1418.9M1092.9 1434.4L1103.1 1493.3M1119.4 1506L1128.5 1542.8" fill="none" stroke="#f43a3a" stroke-width="3.0"/>
<path d="M903.5 1369.1a6.3 6.3 0 1 0 12.6 0a6.3 6.3 0 1 0 -12.6 0M916.5 1368.9a6.3 6.3 0 1 0 12.6 0a6.3 6.3 0 1 0 -12.6 0M929.4 1368.8a6.3 6.3 0 1 0 12.6 0a6.3 6.3 0 1 0 -12.6 0M942.4 1368.6a6.3 6.3 0 1 0 12.6 0a6.3 6.3 0 1 0 -12.6 0M955.4 1368.3a6.3 6.3 0 1 0 12.6 0a6.3 6.3 0 1 0 -12.6 0M968.4 1368.3a6.3 6.3 0 1 0 12.6 0a6.3 6.3 0 1 0 -12.6 0M981.4 1365.4a6.3 6.3 0 1 0 12.6 0a6.3 6.3 0 1 0 -12.6 0M994.3 1365.4a6.3 6.3 0 1 0 12.6 0a6.3 6.3 0 1 0 -12.6 0M1007.3 1368.3a6.3 6.3 0 1 0 12.6 0a6.3 6.3 0 1 0 -12.6 0M1020.3 1367.3a6.3 6.3 0 1 0 12.6 0a6.3 6.3 0 1 0 -12.6 0M1033.3 1371.2a6.3 6.3 0 1 0 12.6 0a6.3 6.3 0 1 0 -12.6 0M1046.3 1374.1a6.3 6.3 0 1 0 12.6 0a6.3 6.3 0 1 0 -12.6 0M1059.2 1374.1a6.3 6.3 0 1 0 12.6 0a6.3 6.3 0 1 0 -12.6 0M1072.2 1374.1a6.3 6.3 0 1 0 12.6 0a6.3 6.3 0 1 0 -12.6 0M1085.2 1426.6a6.3 6.3 0 1 0 12.6 0a6.3 6.3 0 1 0 -12.6 0M1098.2 1501a6.3 6.3 0 1 0 12.6 0a6.3 6.3 0 1 0 -12.6 0M1111.2 1498.4a6.3 6.3 0 1 0 12.6 0a6.3 6.3 0 1 0 -12.6 0M1124.1 1550.4a6.3 6.3 0 1 0 12.6 0a6.3 6.3 0 1 0 -12.6 0M1137.1 1546.6a6.3 6.3 0 1 0 12.6 0a6.3 6.3 0 1 0 -12.6 0M1150.1 1548.5a6.3 6.3 0 1 0 12.6 0a6.3 6.3 0 1 0 -12.6 0M1163.1 1547.6a6.3 6.3 0 1 0 12.6 0a6.3 6.3 0 1 0 -12.6 0M1176.1 1551.5a6.3 6.3 0 1 0 12.6 0a6.3 6.3 0 1 0 -12.6 0M1189 1552.5a6.3 6.3 0 1 0 12.6 0a6.3 6.3 0 1 0 -12.6 0M1202 1560.3a6.3 6.3 0 1 0 12.6 0a6.3 6.3 0 1 0 -12.6 0M1215 1565a6.3 6.3 0 1 0 12.6 0a6.3 6.3 0 1 0 -12.6 0M1228 1565.1a6.3 6.3 0 1 0 12.6 0a6.3 6.3 0 1 0 -12.6 0M1241 1569.8a6.3 6.3 0 1 0 12.6 0a6.3 6.3 0 1 0 -12.6 0M1253.9 1569.1a6.3 6.3 0 1 0 12.6 0a6.3 6.3 0 1 0 -12.6 0M1266.9 1572.7a6.3 6.3 0 1 0 12.6 0a6.3 6.3 0 1 0 -12.6 0M1279.9 1570.1a6.3 6.3 0 1 0 12.6 0a6.3 6.3 0 1 0 -12.6 0M1292.9 1573a6.3 6.3 0 1 0 12.6 0a6.3 6.3 0 1 0 -12.6 0M1305.9 1575.6a6.3 6.3 0 1 0 12.6 0a6.3 6.3 0 1 0 -12.6 0M1318.9 1574.8a6.3 6.3 0 1 0 12.6 0a6.3 6.3 0 1 0 -12.6 0M1331.8 1575.7a6.3 6.3 0 1 0 12.6 0a6.3 6.3 0 1 0 -12.6 0M1344.8 1576.5a6.3 6.3 0 1 0 12.6 0a6.3 6.3 0 1 0 -12.6 0M1357.8 1572.6a6.3 6.3 0 1 0 12.6 0a6.3 6.3 0 1 0 -12.6 0M1370.8 1569.9a6.3 6.3 0 1 0 12.6 0a6.3 6.3 0 1 0 -12.6 0M1383.8 1570.9a6.3 6.3 0 1 0 12.6 0a6.3 6.3 0 1 0 -12.6 0M1396.7 1571.9a6.3 6.3 0 1 0 12.6 0a6.3 6.3 0 1 0 -12.6 0M1409.7 1572.7a6.3 6.3 0 1 0 12.6 0a6.3 6.3 0 1 0 -12.6 0M1422.7 1573.5a6.3 6.3 0 1 0 12.6 0a6.3 6.3 0 1 0 -12.6 0M1435.7 1572.3a6.3 6.3 0 1 0 12.6 0a6.3 6.3 0 1 0 -12.6 0M1448.7 1570a6.3 6.3 0 1 0 12.6 0a6.3 6.3 0 1 0 -12.6 0M1461.6 1567.8a6.3 6.3 0 1 0 12.6 0a6.3 6.3 0 1 0 -12.6 0M1474.6 1567.1a6.3 6.3 0 1 0 12.6 0a6.3 6.3 0 1 0 -12.6 0M1487.6 1566.3a6.3 6.3 0 1 0 12.6 0a6.3 6.3 0 1 0 -12.6 0M1500.6 1565.8a6.3 6.3 0 1 0 12.6 0a6.3 6.3 0 1 0 -12.6 0M1513.6 1565.6a6.3 6.3 0 1 0 12.6 0a6.3 6.3 0 1 0 -12.6 0M1526.5 1565.3a6.3 6.3 0 1 0 12.6 0a6.3 6.3 0 1 0 -12.6 0M1539.5 1565.1a6.3 6.3 0 1 0 12.6 0a6.3 6.3 0 1 0 -12.6 0" fill="#f44141"/>
<path d="M1171.6 1380.3L1180.1 1409.3M1184.5 1424.5L1193.2 1456M1197.4 1471.2L1206.2 1503.1M1210.8 1518.2L1218.8 1542.4" fill="none" stroke="#f43a3a" stroke-width="3.0"/>
<path d="M903.5 1366.9a6.3 6.3 0 1 0 12.6 0a6.3 6.3 0 1 0 -12.6 0M916.5 1366.4a6.3 6.3 0 1 0 12.6 0a6.3 6.3 0 1 0 -12.6 0M929.4 1367.3a6.3 6.3 0 1 0 12.6 0a6.3 6.3 0 1 0 -12.6 0M942.4 1368.3a6.3 6.3 0 1 0 12.6 0a6.3 6.3 0 1 0 -12.6 0M955.4 1368.3a6.3 6.3 0 1 0 12.6 0a6.3 6.3 0 1 0 -12.6 0M968.4 1368.3a6.3 6.3 0 1 0 12.6 0a6.3 6.3 0 1 0 -12.6 0M981.4 1362.9a6.3 6.3 0 1 0 12.6 0a6.3 6.3 0 1 0 -12.6 0M994.3 1362.8a6.3 6.3 0 1 0 12.6 0a6.3 6.3 0 1 0 -12.6 0M1007.3 1359.6a6.3 6.3 0 1 0 12.6 0a6.3 6.3 0 1 0 -12.6 0M1020.3 1360.5a6.3 6.3 0 1 0 12.6 0a6.3 6.3 0 1 0 -12.6 0M1033.3 1357.6a6.3 6.3 0 1 0 12.6 0a6.3 6.3 0 1 0 -12.6 0M1046.3 1358.6a6.3 6.3 0 1 0 12.6 0a6.3 6.3 0 1 0 -12.6 0M1059.2 1357.6a6.3 6.3 0 1 0 12.6 0a6.3 6.3 0 1 0 -12.6 0M1072.2 1359.6a6.3 6.3 0 1 0 12.6 0a6.3 6.3 0 1 0 -12.6 0M1085.2 1358.7a6.3 6.3 0 1 0 12.6 0a6.3 6.3 0 1 0 -12.6 0M1098.2 1364.3a6.3 6.3 0 1 0 12.6 0a6.3 6.3 0 1 0 -12.6 0M1111.2 1369.7a6.3 6.3 0 1 0 12.6 0a6.3 6.3 0 1 0 -12.6 0M1124.1 1369.9a6.3 6.3 0 1 0 12.6 0a6.3 6.3 0 1 0 -12.6 0M1137.1 1373.3a6.3 6.3 0 1 0 12.6 0a6.3 6.3 0 1 0 -12.6 0M1150.1 1374.3a6.3 6.3 0 1 0 12.6 0a6.3 6.3 0 1 0 -12.6 0M1163.1 1372.7a6.3 6.3 0 1 0 12.6 0a6.3 6.3 0 1 0 -12.6 0M1176.1 1416.9a6.3 6.3 0 1 0 12.6 0a6.3 6.3 0 1 0 -12.6 0M1189 1463.6a6.3 6.3 0 1 0 12.6 0a6.3 6.3 0 1 0 -12.6 0M1202 1510.8a6.3 6.3 0 1 0 12.6 0a6.3 6.3 0 1 0 -12.6 0M1215 1549.9a6.3 6.3 0 1 0 12.6 0a6.3 6.3 0 1 0 -12.6 0M1228 1557.3a6.3 6.3 0 1 0 12.6 0a6.3 6.3 0 1 0 -12.6 0M1241 1556.5a6.3 6.3 0 1 0 12.6 0a6.3 6.3 0 1 0 -12.6 0M1253.9 1560.2a6.3 6.3 0 1 0 12.6 0a6.3 6.3 0 1 0 -12.6 0M1266.9 1560.3a6.3 6.3 0 1 0 12.6 0a6.3 6.3 0 1 0 -12.6 0M1279.9 1564.5a6.3 6.3 0 1 0 12.6 0a6.3 6.3 0 1 0 -12.6 0M1292.9 1568.8a6.3 6.3 0 1 0 12.6 0a6.3 6.3 0 1 0 -12.6 0M1305.9 1568.2a6.3 6.3 0 1 0 12.6 0a6.3 6.3 0 1 0 -12.6 0M1318.9 1572.8a6.3 6.3 0 1 0 12.6 0a6.3 6.3 0 1 0 -12.6 0M1331.8 1572.7a6.3 6.3 0 1 0 12.6 0a6.3 6.3 0 1 0 -12.6 0M1344.8 1571.5a6.3 6.3 0 1 0 12.6 0a6.3 6.3 0 1 0 -12.6 0M1357.8 1564.1a6.3 6.3 0 1 0 12.6 0a6.3 6.3 0 1 0 -12.6 0M1370.8 1564.3a6.3 6.3 0 1 0 12.6 0a6.3 6.3 0 1 0 -12.6 0M1383.8 1568.5a6.3 6.3 0 1 0 12.6 0a6.3 6.3 0 1 0 -12.6 0M1396.7 1572.7a6.3 6.3 0 1 0 12.6 0a6.3 6.3 0 1 0 -12.6 0M1409.7 1571.9a6.3 6.3 0 1 0 12.6 0a6.3 6.3 0 1 0 -12.6 0M1422.7 1572.8a6.3 6.3 0 1 0 12.6 0a6.3 6.3 0 1 0 -12.6 0M1435.7 1572.4a6.3 6.3 0 1 0 12.6 0a6.3 6.3 0 1 0 -12.6 0M1448.7 1569.7a6.3 6.3 0 1 0 12.6 0a6.3 6.3 0 1 0 -12.6 0M1461.6 1568.1a6.3 6.3 0 1 0 12.6 0a6.3 6.3 0 1 0 -12.6 0M1474.6 1563.5a6.3 6.3 0 1 0 12.6 0a6.3 6.3 0 1 0 -12.6 0M1487.6 1566a6.3 6.3 0 1 0 12.6 0a6.3 6.3 0 1 0 -12.6 0M1500.6 1565.7a6.3 6.3 0 1 0 12.6 0a6.3 6.3 0 1 0 -12.6 0M1513.6 1564.4a6.3 6.3 0 1 0 12.6 0a6.3 6.3 0 1 0 -12.6 0M1526.5 1565.8a6.3 6.3 0 1 0 12.6 0a6.3 6.3 0 1 0 -12.6 0M1539.5 1564.2a6.3 6.3 0 1 0 12.6 0a6.3 6.3 0 1 0 -12.6 0" fill="#f44141"/>
<line x1="1149.7" y1="1222.9" x2="1149.7" y2="1707.5" stroke="#ff0000" stroke-width="2.2" stroke-dasharray="10.3 9.4" stroke-dashoffset="17"/>
<line x1="1303.7" y1="1222.9" x2="1303.7" y2="1707.5" stroke="#000" stroke-width="2.0" stroke-dasharray="8.6 11.1" stroke-dashoffset="13.7" stroke-linecap="round"/>
</g>
<rect x="900.4" y="1222.9" width="646.6" height="484.6" fill="none" stroke="#000" stroke-width="5.2"/>
<text x="900.4" y="1742.5" font-size="31" text-anchor="middle" font-family="'Liberation Serif','Times New Roman',serif" >-20</text>
<text x="1223.7" y="1742.5" font-size="31" text-anchor="middle" font-family="'Liberation Serif','Times New Roman',serif" >0</text>
<text x="1547" y="1742.5" font-size="31" text-anchor="middle" font-family="'Liberation Serif','Times New Roman',serif" >20</text>
<text x="889.6" y="1377.3" font-size="31" text-anchor="end" font-family="'Liberation Serif','Times New Roman',serif" >1</text>
<text x="889.6" y="1474.2" font-size="31" text-anchor="end" font-family="'Liberation Serif','Times New Roman',serif" >0</text>
<text x="889.6" y="1571.1" font-size="31" text-anchor="end" font-family="'Liberation Serif','Times New Roman',serif" >-1</text>
<text x="1153" y="1780.8" font-size="45" font-family="'Liberation Serif','Times New Roman',serif"><tspan font-style="italic">H</tspan><tspan font-size="29.7" dy="11.7">z</tspan><tspan dy="-11.7"> (Oe)</tspan></text>
<text transform="translate(841.5 1466.7) rotate(-90)" text-anchor="middle" font-size="42" font-family="'Liberation Serif','Times New Roman',serif"><tspan font-style="italic">R</tspan><tspan font-size="28" dy="11.5">H</tspan><tspan dy="-11.5"> (a.u.)</tspan></text>
<path d="M1255.2 1255.3H1286.2M1299.8 1255.3H1330.5" stroke="#4a4a4a" stroke-width="3.6"/>
<rect x="1287.5" y="1249.8" width="11" height="11" fill="#505050"/>
<line x1="1255.2" y1="1300.3" x2="1330.5" y2="1300.3" stroke="#f43a3a" stroke-width="3.6"/>
<circle cx="1293" cy="1300.3" r="6" fill="#f44141"/>
<text x="1338" y="1266.7" font-size="32.5" font-family="'Liberation Serif','Times New Roman',serif">7.5x10<tspan font-size="21.8" dy="-11.4">9</tspan><tspan dy="11.4"> A/m</tspan><tspan font-size="21.8" dy="-11.4">2</tspan></text>
<text x="1338.5" y="1306.1" font-size="32.5" font-family="'Liberation Serif','Times New Roman',serif">-7.5x10<tspan font-size="21.8" dy="-11.4">9</tspan><tspan dy="11.4"> A/m</tspan><tspan font-size="21.8" dy="-11.4">2</tspan></text>
<g stroke="#0000ff" fill="#0000ff"><line x1="1160" y1="1649.9" x2="1293" y2="1649.9" stroke-width="2.2"/></g>
<path d="M1149.5 1649.9 L1165 1645.3 L1165 1654.5 Z M1303.3 1649.9 L1287.8 1645.3 L1287.8 1654.5 Z" fill="#0000ff"/>
<text x="1315" y="1675.9" font-size="42" fill="#0000ff" font-family="'Liberation Serif','Times New Roman',serif">2<tspan font-style="italic">H</tspan><tspan font-size="28" dy="11.7">z</tspan><tspan font-size="28" dx="-5" dy="-29.3">eff</tspan></text>
<g clip-path="url(#cg)">
<line x1="500.6" y1="2400.3" x2="1211" y2="1947.5" stroke="#0000ff" stroke-width="6.8"/>
<rect x="465.9" y="2399.1" width="27.4" height="27.4" fill="#535353" stroke="#454545" stroke-width="0.6"/>
<rect x="823.8" y="2399.1" width="27.4" height="27.4" fill="#535353" stroke="#454545" stroke-width="0.6"/>
<rect x="1038.5" y="2399.1" width="27.4" height="27.4" fill="#535353" stroke="#454545" stroke-width="0.6"/>
<rect x="1181.7" y="2399.1" width="27.4" height="27.4" fill="#535353" stroke="#454545" stroke-width="0.6"/>
<path d="M1189.1 1897.8h12.6M1189.1 1932.2h12.6M1195.4 1897.8V1932.2" stroke="#f7a0a0" stroke-width="2"/>
<circle cx="479.6" cy="2388.8" r="15.3" fill="#f44141" stroke="#fb2b2b" stroke-width="0.7"/>
<circle cx="837.5" cy="2264.7" r="15.3" fill="#f44141" stroke="#fb2b2b" stroke-width="0.7"/>
<circle cx="1052.2" cy="1992.2" r="15.3" fill="#f44141" stroke="#fb2b2b" stroke-width="0.7"/>
<circle cx="1195.4" cy="1914.9" r="15.3" fill="#f44141" stroke="#fb2b2b" stroke-width="0.7"/>
</g>
<path d="M479.6 2466.5v-10.5M479.6 1822.6v10.5M837.5 2466.5v-10.5M837.5 1822.6v10.5M1195.4 2466.5v-10.5M1195.4 1822.6v10.5M408 2412.8h10.5M1267 2412.8h-10.5M408 2198.2h10.5M1267 2198.2h-10.5M408 1983.6h10.5M1267 1983.6h-10.5" stroke="#000" stroke-width="4.8"/>
<rect x="408" y="1822.6" width="859" height="643.9" fill="none" stroke="#000" stroke-width="5.6"/>
<text x="479.6" y="2509" font-size="36" text-anchor="middle" font-family="'Liberation Serif','Times New Roman',serif" >2.5</text>
<text x="837.5" y="2509" font-size="36" text-anchor="middle" font-family="'Liberation Serif','Times New Roman',serif" >5.0</text>
<text x="1195.4" y="2509" font-size="36" text-anchor="middle" font-family="'Liberation Serif','Times New Roman',serif" >7.5</text>
<text x="395" y="2424.8" font-size="36" text-anchor="end" font-family="'Liberation Serif','Times New Roman',serif" >0</text>
<text x="395" y="2210.2" font-size="36" text-anchor="end" font-family="'Liberation Serif','Times New Roman',serif" >2</text>
<text x="395" y="1995.6" font-size="36" text-anchor="end" font-family="'Liberation Serif','Times New Roman',serif" >4</text>
<rect x="478.4" y="1857" width="28" height="28" fill="#505050"/>
<circle cx="492.4" cy="1917" r="15.6" fill="#f44141"/>
<line x1="456.1" y1="1961.2" x2="528.7" y2="1961.2" stroke="#0000ff" stroke-width="7.8"/>
<text x="543.8" y="1883.8" font-size="36" text-anchor="start" font-family="'Liberation Serif','Times New Roman',serif" font-weight="bold">flat substrate</text>
<text x="543.8" y="1928.8" font-size="36" text-anchor="start" font-family="'Liberation Serif','Times New Roman',serif" font-weight="bold">vicinal substrate</text>
<text x="543.8" y="1974" font-size="36" text-anchor="start" font-family="'Liberation Serif','Times New Roman',serif" font-weight="bold">fitting line</text>
<text x="1070" y="2282.4" font-size="36.8" font-weight="bold" font-family="'Liberation Serif','Times New Roman',serif"><tspan font-style="italic">H</tspan><tspan font-size="24.5" dy="9.7">x</tspan><tspan dy="-9.7">= 0 Oe</tspan></text>
<text font-size="51" font-family="'Liberation Serif','Times New Roman',serif"><tspan x="698.4" y="2573.2" font-style="italic" font-size="52">J</tspan><tspan x="723" y="2585" font-size="33">c</tspan><tspan x="752.3" y="2573.2">(</tspan><tspan x="766.4" y="2573.2">10</tspan><tspan x="819" y="2551.7" font-size="32">9</tspan><tspan x="850" y="2573.2">A/m</tspan><tspan x="938.5" y="2552" font-size="32">2</tspan><tspan x="956.8" y="2573.2">)</tspan></text>
<text transform="translate(348.5 2255.3) rotate(-90)" font-size="51" font-family="'Liberation Serif','Times New Roman',serif"><tspan x="0" y="0">|</tspan><tspan x="11.6" y="0" font-style="italic">H</tspan><tspan x="49.8" y="13.1" font-size="33">z</tspan><tspan x="62.8" y="-23.3" font-size="33">eff</tspan><tspan x="99.4" y="0">|</tspan><tspan x="123" y="0">(Oe)</tspan></text>
</svg></body></html>
